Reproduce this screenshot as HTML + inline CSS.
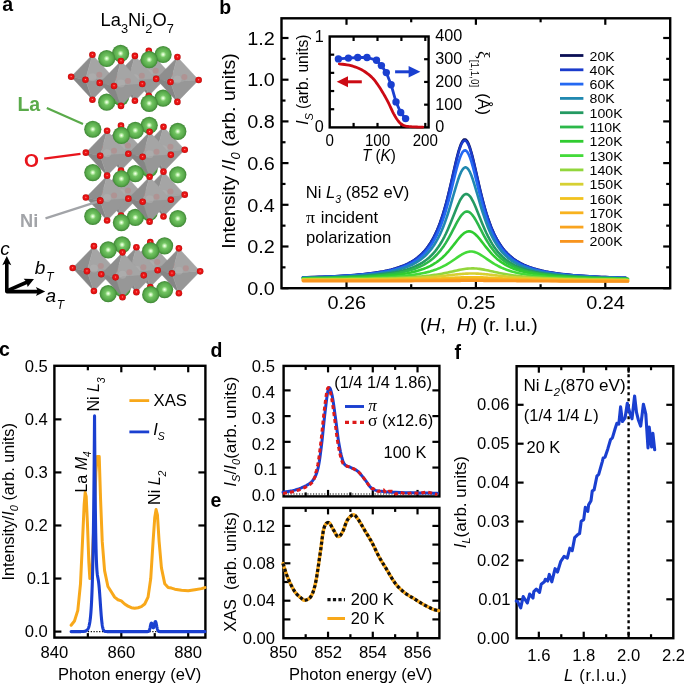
<!DOCTYPE html>
<html><head><meta charset="utf-8"><title>La3Ni2O7</title>
<style>html,body{margin:0;padding:0;background:#fff;}svg{display:block;}</style></head>
<body><svg width="684" height="685" viewBox="0 0 684 685" font-family="'Liberation Sans', Arial, Helvetica, sans-serif" fill="#000">
<rect x="281.5" y="18.3" width="388.7" height="269.9" fill="none" stroke="#000" stroke-width="2.4" stroke-linejoin="miter"/>
<line x1="281.5" y1="288.2" x2="288.5" y2="288.2" stroke="#000" stroke-width="2.2" />
<line x1="670.2" y1="288.2" x2="663.2" y2="288.2" stroke="#000" stroke-width="2.2" />
<line x1="281.5" y1="246.5" x2="288.5" y2="246.5" stroke="#000" stroke-width="2.2" />
<line x1="670.2" y1="246.5" x2="663.2" y2="246.5" stroke="#000" stroke-width="2.2" />
<line x1="281.5" y1="204.8" x2="288.5" y2="204.8" stroke="#000" stroke-width="2.2" />
<line x1="670.2" y1="204.8" x2="663.2" y2="204.8" stroke="#000" stroke-width="2.2" />
<line x1="281.5" y1="163.1" x2="288.5" y2="163.1" stroke="#000" stroke-width="2.2" />
<line x1="670.2" y1="163.1" x2="663.2" y2="163.1" stroke="#000" stroke-width="2.2" />
<line x1="281.5" y1="121.4" x2="288.5" y2="121.4" stroke="#000" stroke-width="2.2" />
<line x1="670.2" y1="121.4" x2="663.2" y2="121.4" stroke="#000" stroke-width="2.2" />
<line x1="281.5" y1="79.7" x2="288.5" y2="79.7" stroke="#000" stroke-width="2.2" />
<line x1="670.2" y1="79.7" x2="663.2" y2="79.7" stroke="#000" stroke-width="2.2" />
<line x1="281.5" y1="38" x2="288.5" y2="38" stroke="#000" stroke-width="2.2" />
<line x1="670.2" y1="38" x2="663.2" y2="38" stroke="#000" stroke-width="2.2" />
<line x1="281.5" y1="267.35" x2="285.5" y2="267.35" stroke="#000" stroke-width="2.2" />
<line x1="670.2" y1="267.35" x2="666.2" y2="267.35" stroke="#000" stroke-width="2.2" />
<line x1="281.5" y1="225.65" x2="285.5" y2="225.65" stroke="#000" stroke-width="2.2" />
<line x1="670.2" y1="225.65" x2="666.2" y2="225.65" stroke="#000" stroke-width="2.2" />
<line x1="281.5" y1="183.95" x2="285.5" y2="183.95" stroke="#000" stroke-width="2.2" />
<line x1="670.2" y1="183.95" x2="666.2" y2="183.95" stroke="#000" stroke-width="2.2" />
<line x1="281.5" y1="142.25" x2="285.5" y2="142.25" stroke="#000" stroke-width="2.2" />
<line x1="670.2" y1="142.25" x2="666.2" y2="142.25" stroke="#000" stroke-width="2.2" />
<line x1="281.5" y1="100.55" x2="285.5" y2="100.55" stroke="#000" stroke-width="2.2" />
<line x1="670.2" y1="100.55" x2="666.2" y2="100.55" stroke="#000" stroke-width="2.2" />
<line x1="281.5" y1="58.85" x2="285.5" y2="58.85" stroke="#000" stroke-width="2.2" />
<line x1="670.2" y1="58.85" x2="666.2" y2="58.85" stroke="#000" stroke-width="2.2" />
<line x1="346.5" y1="288.2" x2="346.5" y2="281.7" stroke="#000" stroke-width="2.2" />
<line x1="346.5" y1="18.3" x2="346.5" y2="24.8" stroke="#000" stroke-width="2.2" />
<line x1="475.9" y1="288.2" x2="475.9" y2="281.7" stroke="#000" stroke-width="2.2" />
<line x1="475.9" y1="18.3" x2="475.9" y2="24.8" stroke="#000" stroke-width="2.2" />
<line x1="605.3" y1="288.2" x2="605.3" y2="281.7" stroke="#000" stroke-width="2.2" />
<line x1="605.3" y1="18.3" x2="605.3" y2="24.8" stroke="#000" stroke-width="2.2" />
<line x1="411.2" y1="288.2" x2="411.2" y2="284.2" stroke="#000" stroke-width="2.2" />
<line x1="411.2" y1="18.3" x2="411.2" y2="22.3" stroke="#000" stroke-width="2.2" />
<line x1="540.6" y1="288.2" x2="540.6" y2="284.2" stroke="#000" stroke-width="2.2" />
<line x1="540.6" y1="18.3" x2="540.6" y2="22.3" stroke="#000" stroke-width="2.2" />
<text transform="translate(274.9,294.9) scale(1.04,1)" font-size="19.1" text-anchor="end" >0.0</text>
<text transform="translate(274.9,253.2) scale(1.04,1)" font-size="19.1" text-anchor="end" >0.2</text>
<text transform="translate(274.9,211.5) scale(1.04,1)" font-size="19.1" text-anchor="end" >0.4</text>
<text transform="translate(274.9,169.8) scale(1.04,1)" font-size="19.1" text-anchor="end" >0.6</text>
<text transform="translate(274.9,128.1) scale(1.04,1)" font-size="19.1" text-anchor="end" >0.8</text>
<text transform="translate(274.9,86.4) scale(1.04,1)" font-size="19.1" text-anchor="end" >1.0</text>
<text transform="translate(274.9,44.7) scale(1.04,1)" font-size="19.1" text-anchor="end" >1.2</text>
<text transform="translate(346.8,309) scale(1.04,1)" font-size="19.1" text-anchor="middle" >0.26</text>
<text transform="translate(476.2,309) scale(1.04,1)" font-size="19.1" text-anchor="middle" >0.25</text>
<text transform="translate(605.6,309) scale(1.04,1)" font-size="19.1" text-anchor="middle" >0.24</text>
<text transform="translate(234.9,151) rotate(-90) scale(1,0.98)" font-size="19.6" text-anchor="middle" >Intensity /<tspan font-style="italic">I</tspan><tspan font-size="13" font-style="italic" dy="5">0</tspan><tspan dy="-5"> (arb. units)</tspan></text>
<text transform="translate(420,330.9) scale(1.04,1)" font-size="18.7" text-anchor="start" >(<tspan font-style="italic">H</tspan>, &#160;<tspan font-style="italic">H</tspan>) (r. l.u.)</text>
<polyline points="303,277.38 307,277.28 311,277.16 315,277.04 319,276.9 323,276.76 327,276.6 331,276.42 335,276.23 339,276.02 343,275.79 347,275.54 351,275.26 355,274.95 359,274.61 363,274.22 367,273.79 371,273.3 375,272.76 379,272.13 383,271.42 387,270.61 391,269.68 395,268.59 399,267.32 403,265.83 407,264.07 408.5,263.32 410,262.52 411.5,261.67 413,260.75 414.5,259.76 416,258.7 417.5,257.56 419,256.33 420.5,255 422,253.57 423.5,252.01 425,250.33 426.5,248.5 428,246.52 429.5,244.36 431,242.01 432.5,239.46 434,236.67 435.5,233.63 437,230.31 438.5,226.7 440,222.77 441.5,218.5 443,213.87 444.5,208.87 446,203.49 447.5,197.75 449,191.67 450.5,185.3 452,178.72 453.5,172.05 455,165.44 456.5,159.09 458,153.23 459.5,148.11 461,143.97 462.5,141.05 464,139.51 465.5,139.46 467,140.9 468.5,143.73 470,147.8 471.5,152.87 473,158.69 474.5,165.01 476,171.61 477.5,178.29 479,184.88 480.5,191.27 482,197.38 483.5,203.15 485,208.55 486.5,213.59 488,218.25 489.5,222.55 491,226.5 492.5,230.14 494,233.48 495.5,236.54 497,239.35 498.5,241.93 500,244.29 501.5,246.47 503,248.47 504.5,250.31 506,252.01 507.5,253.58 509,255.02 510.5,256.36 512,257.61 513.5,258.76 515,259.83 516.5,260.82 518,261.75 519.5,262.61 521,263.42 522.5,264.17 524,264.88 525.5,265.54 529.5,267.12 533.5,268.45 537.5,269.6 541.5,270.59 545.5,271.45 549.5,272.19 553.5,272.85 557.5,273.43 561.5,273.95 565.5,274.4 569.5,274.81 573.5,275.18 577.5,275.52 581.5,275.82 585.5,276.09 589.5,276.34 593.5,276.56 597.5,276.77 601.5,276.96 605.5,277.14 609.5,277.3 613.5,277.45 617.5,277.59 621.5,277.72 625.5,277.84" fill="none" stroke="#0b0f55" stroke-width="2.6" stroke-linejoin="round" stroke-linecap="round" />
<polyline points="303,277.4 307,277.3 311,277.18 315,277.06 319,276.93 323,276.78 327,276.62 331,276.45 335,276.26 339,276.06 343,275.83 347,275.58 351,275.3 355,274.99 359,274.65 363,274.27 367,273.84 371,273.36 375,272.82 379,272.2 383,271.5 387,270.69 391,269.76 395,268.68 399,267.43 403,265.95 407,264.2 408.5,263.46 410,262.67 411.5,261.82 413,260.91 414.5,259.93 416,258.88 417.5,257.75 419,256.53 420.5,255.22 422,253.79 423.5,252.25 425,250.58 426.5,248.77 428,246.8 429.5,244.66 431,242.34 432.5,239.8 434,237.04 435.5,234.02 437,230.74 438.5,227.16 440,223.26 441.5,219.03 443,214.44 444.5,209.48 446,204.14 447.5,198.45 449,192.42 450.5,186.1 452,179.58 453.5,172.97 455,166.42 456.5,160.12 458,154.31 459.5,149.23 461,145.13 462.5,142.23 464,140.71 465.5,140.66 467,142.09 468.5,144.9 470,148.92 471.5,153.95 473,159.72 474.5,165.99 476,172.54 477.5,179.15 479,185.69 480.5,192.03 482,198.08 483.5,203.8 485,209.16 486.5,214.15 488,218.77 489.5,223.03 491,226.96 492.5,230.56 494,233.87 495.5,236.91 497,239.69 498.5,242.25 500,244.6 501.5,246.75 503,248.74 504.5,250.56 506,252.25 507.5,253.8 509,255.24 510.5,256.56 512,257.8 513.5,258.94 515,260 516.5,260.98 518,261.9 519.5,262.76 521,263.56 522.5,264.31 524,265.01 525.5,265.67 529.5,267.23 533.5,268.55 537.5,269.69 541.5,270.67 545.5,271.52 549.5,272.26 553.5,272.91 557.5,273.49 561.5,274 565.5,274.45 569.5,274.86 573.5,275.22 577.5,275.55 581.5,275.85 585.5,276.12 589.5,276.37 593.5,276.59 597.5,276.8 601.5,276.99 605.5,277.16 609.5,277.33 613.5,277.47 617.5,277.61 621.5,277.74 625.5,277.86" fill="none" stroke="#1b3ccc" stroke-width="2.6" stroke-linejoin="round" stroke-linecap="round" />
<polyline points="303,277.56 307,277.47 311,277.36 315,277.25 319,277.12 323,276.99 327,276.84 331,276.69 335,276.51 339,276.32 343,276.11 347,275.88 351,275.62 355,275.34 359,275.02 363,274.67 367,274.27 371,273.83 375,273.33 379,272.76 383,272.11 387,271.37 391,270.51 395,269.52 399,268.36 403,267 407,265.38 408.5,264.7 410,263.97 411.5,263.19 413,262.35 414.5,261.45 416,260.49 417.5,259.45 419,258.32 420.5,257.11 422,255.8 423.5,254.39 425,252.85 426.5,251.19 428,249.38 429.5,247.41 431,245.27 432.5,242.94 434,240.4 435.5,237.63 437,234.61 438.5,231.32 440,227.74 441.5,223.85 443,219.62 444.5,215.06 446,210.15 447.5,204.9 449,199.33 450.5,193.49 452,187.45 453.5,181.31 455,175.2 456.5,169.3 458,163.83 459.5,159 461,155.05 462.5,152.2 464,150.61 465.5,150.38 467,151.52 468.5,153.97 470,157.57 471.5,162.14 473,167.42 474.5,173.21 476,179.27 477.5,185.42 479,191.51 480.5,197.43 482,203.1 483.5,208.46 485,213.49 486.5,218.17 488,222.52 489.5,226.52 491,230.21 492.5,233.6 494,236.71 495.5,239.57 497,242.19 498.5,244.59 500,246.8 501.5,248.83 503,250.69 504.5,252.41 506,253.99 507.5,255.45 509,256.8 510.5,258.05 512,259.2 513.5,260.28 515,261.27 516.5,262.2 518,263.06 519.5,263.87 521,264.62 522.5,265.32 524,265.97 525.5,266.59 529.5,268.05 533.5,269.3 537.5,270.36 541.5,271.28 545.5,272.08 549.5,272.77 553.5,273.38 557.5,273.92 561.5,274.4 565.5,274.82 569.5,275.2 573.5,275.55 577.5,275.85 581.5,276.13 585.5,276.39 589.5,276.62 593.5,276.83 597.5,277.02 601.5,277.2 605.5,277.36 609.5,277.51 613.5,277.65 617.5,277.78 621.5,277.9 625.5,278.01" fill="none" stroke="#2468f2" stroke-width="2.6" stroke-linejoin="round" stroke-linecap="round" />
<polyline points="303,277.76 307,277.67 311,277.57 315,277.47 319,277.36 323,277.24 327,277.11 331,276.97 335,276.81 339,276.64 343,276.45 347,276.25 351,276.02 355,275.76 359,275.48 363,275.16 367,274.81 371,274.41 375,273.97 379,273.46 383,272.88 387,272.22 391,271.46 395,270.58 399,269.55 403,268.35 407,266.92 408.5,266.32 410,265.68 411.5,264.99 413,264.26 414.5,263.47 416,262.62 417.5,261.71 419,260.72 420.5,259.67 422,258.52 423.5,257.29 425,255.95 426.5,254.51 428,252.94 429.5,251.23 431,249.38 432.5,247.37 434,245.19 435.5,242.81 437,240.22 438.5,237.4 440,234.34 441.5,231.02 443,227.43 444.5,223.56 446,219.4 447.5,214.96 449,210.25 450.5,205.32 452,200.21 453.5,195 455,189.81 456.5,184.76 458,180.03 459.5,175.79 461,172.24 462.5,169.55 464,167.87 465.5,167.3 467,167.87 468.5,169.55 470,172.24 471.5,175.8 473,180.03 474.5,184.77 476,189.81 477.5,195.01 479,200.22 480.5,205.33 482,210.27 483.5,214.98 485,219.43 486.5,223.59 488,227.47 489.5,231.07 491,234.39 492.5,237.45 494,240.27 495.5,242.87 497,245.25 498.5,247.45 500,249.46 501.5,251.32 503,253.02 504.5,254.6 506,256.05 507.5,257.39 509,258.63 510.5,259.78 512,260.84 513.5,261.83 515,262.75 516.5,263.6 518,264.4 519.5,265.14 521,265.83 522.5,266.48 524,267.08 525.5,267.65 529.5,269 533.5,270.15 537.5,271.13 541.5,271.97 545.5,272.71 549.5,273.35 553.5,273.91 557.5,274.41 561.5,274.85 565.5,275.24 569.5,275.59 573.5,275.91 577.5,276.19 581.5,276.45 585.5,276.68 589.5,276.9 593.5,277.09 597.5,277.27 601.5,277.43 605.5,277.58 609.5,277.72 613.5,277.85 617.5,277.97 621.5,278.08 625.5,278.19" fill="none" stroke="#2088b0" stroke-width="2.6" stroke-linejoin="round" stroke-linecap="round" />
<polyline points="303,278.07 307,278 311,277.93 315,277.85 319,277.76 323,277.66 327,277.55 331,277.44 335,277.31 339,277.17 343,277.02 347,276.85 351,276.66 355,276.46 359,276.23 363,275.97 367,275.69 371,275.37 375,275.01 379,274.6 383,274.13 387,273.6 391,272.99 395,272.29 399,271.47 403,270.51 407,269.38 408.5,268.91 410,268.4 411.5,267.86 413,267.28 414.5,266.66 416,266 417.5,265.29 419,264.52 420.5,263.7 422,262.81 423.5,261.86 425,260.83 426.5,259.71 428,258.51 429.5,257.21 431,255.79 432.5,254.27 434,252.61 435.5,250.82 437,248.87 438.5,246.76 440,244.48 441.5,242.02 443,239.37 444.5,236.52 446,233.47 447.5,230.22 449,226.79 450.5,223.2 452,219.49 453.5,215.71 455,211.92 456.5,208.21 458,204.7 459.5,201.49 461,198.71 462.5,196.49 464,194.93 465.5,194.11 467,194.09 468.5,194.85 470,196.36 471.5,198.54 473,201.29 474.5,204.47 476,207.98 477.5,211.67 479,215.46 480.5,219.25 482,222.98 483.5,226.58 485,230.02 486.5,233.28 488,236.35 489.5,239.22 491,241.89 492.5,244.37 494,246.67 495.5,248.79 497,250.75 498.5,252.56 500,254.23 501.5,255.77 503,257.2 504.5,258.51 506,259.73 507.5,260.85 509,261.89 510.5,262.86 512,263.76 513.5,264.59 515,265.36 516.5,266.08 518,266.76 519.5,267.38 521,267.97 522.5,268.52 524,269.03 525.5,269.51 527,269.97 531,271.04 535,271.96 539,272.75 543,273.43 547,274.03 551,274.55 555,275 559,275.41 563,275.77 567,276.09 571,276.38 575,276.63 579,276.87 583,277.08 587,277.27 591,277.45 595,277.61 599,277.75 603,277.89 607,278.01 611,278.13 615,278.24 619,278.34 623,278.43 627,278.51" fill="none" stroke="#249a62" stroke-width="2.6" stroke-linejoin="round" stroke-linecap="round" />
<polyline points="303,278.29 307,278.23 311,278.16 315,278.09 319,278.02 323,277.94 327,277.85 331,277.75 335,277.64 339,277.52 343,277.39 347,277.25 351,277.1 355,276.92 359,276.73 363,276.51 367,276.27 371,276 375,275.7 379,275.35 383,274.97 387,274.52 391,274.01 395,273.42 399,272.74 403,271.95 407,271.01 411,269.91 412.5,269.45 414,268.95 415.5,268.42 417,267.85 418.5,267.24 420,266.59 421.5,265.89 423,265.13 424.5,264.32 426,263.44 427.5,262.5 429,261.48 430.5,260.39 432,259.2 433.5,257.92 435,256.54 436.5,255.04 438,253.43 439.5,251.69 441,249.82 442.5,247.81 444,245.66 445.5,243.36 447,240.92 448.5,238.34 450,235.64 451.5,232.84 453,229.97 454.5,227.08 456,224.22 457.5,221.46 459,218.88 460.5,216.55 462,214.58 463.5,213.05 465,212.01 466.5,211.53 468,211.63 469.5,212.3 471,213.51 472.5,215.2 474,217.3 475.5,219.72 477,222.37 478.5,225.17 480,228.05 481.5,230.95 483,233.8 484.5,236.57 486,239.24 487.5,241.77 489,244.17 490.5,246.43 492,248.54 493.5,250.51 495,252.34 496.5,254.04 498,255.62 499.5,257.08 501,258.43 502.5,259.68 504,260.84 505.5,261.92 507,262.91 508.5,263.84 510,264.7 511.5,265.5 513,266.24 514.5,266.93 516,267.57 517.5,268.17 519,268.74 520.5,269.26 522,269.75 523.5,270.21 525,270.64 526.5,271.05 528,271.43 532,272.34 536,273.11 540,273.78 544,274.36 548,274.87 552,275.31 556,275.7 560,276.05 564,276.36 568,276.63 572,276.88 576,277.1 580,277.3 584,277.48 588,277.65 592,277.8 596,277.94 600,278.07 604,278.18 608,278.29 612,278.39 616,278.49 620,278.57 624,278.65 628,278.73" fill="none" stroke="#2cb84a" stroke-width="2.6" stroke-linejoin="round" stroke-linecap="round" />
<polyline points="303,278.57 307,278.53 311,278.48 315,278.43 319,278.37 323,278.31 327,278.24 331,278.17 335,278.09 339,278 343,277.9 347,277.79 351,277.67 355,277.54 359,277.4 363,277.24 367,277.06 371,276.86 375,276.63 379,276.38 383,276.09 387,275.76 391,275.39 395,274.96 399,274.46 403,273.89 407,273.21 411,272.43 412.5,272.1 414,271.75 415.5,271.37 417,270.97 418.5,270.54 420,270.08 421.5,269.59 423,269.07 424.5,268.51 426,267.91 427.5,267.26 429,266.56 430.5,265.82 432,265.02 433.5,264.15 435,263.23 436.5,262.23 438,261.16 439.5,260.01 441,258.78 442.5,257.46 444,256.05 445.5,254.55 447,252.96 448.5,251.28 450,249.52 451.5,247.69 453,245.81 454.5,243.89 456,241.96 457.5,240.06 459,238.23 460.5,236.52 462,234.96 463.5,233.63 465,232.56 466.5,231.8 468,231.38 469.5,231.32 471,231.62 472.5,232.27 474,233.24 475.5,234.49 477,235.98 478.5,237.65 480,239.45 481.5,241.33 483,243.26 484.5,245.19 486,247.09 487.5,248.94 489,250.73 490.5,252.44 492,254.06 493.5,255.6 495,257.04 496.5,258.39 498,259.66 499.5,260.84 501,261.94 502.5,262.97 504,263.92 505.5,264.81 507,265.64 508.5,266.41 510,267.13 511.5,267.79 513,268.42 514.5,269 516,269.54 517.5,270.04 519,270.52 520.5,270.96 522,271.37 523.5,271.76 525,272.13 526.5,272.47 528,272.79 529.5,273.09 533.5,273.82 537.5,274.44 541.5,274.98 545.5,275.45 549.5,275.85 553.5,276.21 557.5,276.53 561.5,276.81 565.5,277.05 569.5,277.28 573.5,277.48 577.5,277.66 581.5,277.82 585.5,277.97 589.5,278.11 593.5,278.23 597.5,278.34 601.5,278.45 605.5,278.54 609.5,278.63 613.5,278.71 617.5,278.79 621.5,278.86 625.5,278.93" fill="none" stroke="#30cc30" stroke-width="2.6" stroke-linejoin="round" stroke-linecap="round" />
<polyline points="303,278.92 307,278.89 311,278.86 315,278.83 319,278.79 323,278.76 327,278.72 331,278.67 335,278.62 339,278.56 343,278.5 347,278.44 351,278.36 355,278.28 359,278.19 363,278.09 367,277.98 371,277.85 375,277.71 379,277.56 383,277.38 387,277.17 391,276.94 395,276.68 399,276.38 403,276.03 407,275.62 411,275.15 415,274.6 416.5,274.37 418,274.12 419.5,273.86 421,273.58 422.5,273.28 424,272.96 425.5,272.62 427,272.26 428.5,271.87 430,271.46 431.5,271.01 433,270.54 434.5,270.03 436,269.49 437.5,268.91 439,268.29 440.5,267.63 442,266.93 443.5,266.18 445,265.39 446.5,264.55 448,263.67 449.5,262.74 451,261.78 452.5,260.78 454,259.76 455.5,258.72 457,257.68 458.5,256.66 460,255.67 461.5,254.73 463,253.87 464.5,253.11 466,252.47 467.5,251.99 469,251.66 470.5,251.51 472,251.54 473.5,251.75 475,252.13 476.5,252.67 478,253.35 479.5,254.15 481,255.04 482.5,256 484,257 485.5,258.04 487,259.08 488.5,260.12 490,261.14 491.5,262.13 493,263.08 494.5,264 496,264.87 497.5,265.7 499,266.48 500.5,267.22 502,267.91 503.5,268.56 505,269.17 506.5,269.75 508,270.28 509.5,270.78 511,271.25 512.5,271.69 514,272.1 515.5,272.49 517,272.85 518.5,273.18 520,273.5 521.5,273.8 523,274.08 524.5,274.34 526,274.58 527.5,274.82 529,275.03 530.5,275.24 532,275.44 536,275.9 540,276.31 544,276.66 548,276.96 552,277.23 556,277.47 560,277.67 564,277.86 568,278.03 572,278.18 576,278.31 580,278.43 584,278.54 588,278.65 592,278.74 596,278.82 600,278.9 604,278.97 608,279.04 612,279.1 616,279.16 620,279.21 624,279.26 628,279.31" fill="none" stroke="#44da3a" stroke-width="2.6" stroke-linejoin="round" stroke-linecap="round" />
<polyline points="303,279.19 307,279.18 311,279.16 315,279.15 319,279.13 323,279.11 327,279.09 331,279.06 335,279.04 339,279.01 343,278.97 347,278.94 351,278.9 355,278.86 359,278.81 363,278.75 367,278.69 371,278.62 375,278.55 379,278.46 383,278.37 387,278.26 391,278.14 395,278 399,277.84 403,277.67 407,277.46 411,277.23 415,276.95 416.5,276.84 418,276.72 419.5,276.6 421,276.47 422.5,276.33 424,276.18 425.5,276.03 427,275.86 428.5,275.69 430,275.51 431.5,275.32 433,275.11 434.5,274.9 436,274.68 437.5,274.44 439,274.19 440.5,273.93 442,273.66 443.5,273.37 445,273.08 446.5,272.77 448,272.46 449.5,272.14 451,271.81 452.5,271.47 454,271.13 455.5,270.8 457,270.47 458.5,270.14 460,269.84 461.5,269.54 463,269.28 464.5,269.04 466,268.83 467.5,268.66 469,268.53 470.5,268.44 472,268.4 473.5,268.41 475,268.47 476.5,268.57 478,268.71 479.5,268.89 481,269.11 482.5,269.37 484,269.64 485.5,269.94 487,270.26 488.5,270.59 490,270.92 491.5,271.26 493,271.6 494.5,271.94 496,272.27 497.5,272.59 499,272.91 500.5,273.22 502,273.51 503.5,273.79 505,274.07 506.5,274.33 508,274.58 509.5,274.81 511,275.04 512.5,275.26 514,275.46 515.5,275.65 517,275.84 518.5,276.01 520,276.18 521.5,276.34 523,276.49 524.5,276.63 526,276.76 527.5,276.89 529,277.01 530.5,277.13 532,277.23 533.5,277.34 537.5,277.59 541.5,277.81 545.5,278.01 549.5,278.18 553.5,278.34 557.5,278.47 561.5,278.6 565.5,278.71 569.5,278.81 573.5,278.9 577.5,278.98 581.5,279.05 585.5,279.12 589.5,279.18 593.5,279.24 597.5,279.29 601.5,279.34 605.5,279.39 609.5,279.43 613.5,279.47 617.5,279.51 621.5,279.54 625.5,279.58" fill="none" stroke="#92d63c" stroke-width="2.6" stroke-linejoin="round" stroke-linecap="round" />
<polyline points="303,279.59 307,279.58 311,279.57 315,279.56 319,279.55 323,279.54 327,279.52 331,279.51 335,279.49 339,279.47 343,279.45 347,279.42 351,279.39 355,279.36 359,279.33 363,279.29 367,279.25 371,279.2 375,279.14 379,279.08 383,279.02 387,278.94 391,278.86 395,278.76 399,278.65 403,278.53 407,278.39 411,278.23 415,278.05 416.5,277.98 418,277.9 419.5,277.82 421,277.73 422.5,277.64 424,277.55 425.5,277.45 427,277.35 428.5,277.24 430,277.13 431.5,277.01 433,276.89 434.5,276.76 436,276.62 437.5,276.49 439,276.34 440.5,276.19 442,276.04 443.5,275.88 445,275.72 446.5,275.56 448,275.39 449.5,275.22 451,275.05 452.5,274.88 454,274.72 455.5,274.55 457,274.39 458.5,274.24 460,274.1 461.5,273.97 463,273.85 464.5,273.75 466,273.66 467.5,273.59 469,273.54 470.5,273.51 472,273.5 473.5,273.51 475,273.54 476.5,273.59 478,273.66 479.5,273.75 481,273.85 482.5,273.97 484,274.11 485.5,274.25 487,274.4 488.5,274.56 490,274.73 491.5,274.89 493,275.07 494.5,275.24 496,275.41 497.5,275.58 499,275.75 500.5,275.91 502,276.07 503.5,276.23 505,276.39 506.5,276.53 508,276.68 509.5,276.81 511,276.95 512.5,277.08 514,277.2 515.5,277.32 517,277.43 518.5,277.54 520,277.64 521.5,277.74 523,277.83 524.5,277.92 526,278.01 527.5,278.09 529,278.17 530.5,278.25 532,278.32 536,278.5 540,278.65 544,278.8 548,278.92 552,279.03 556,279.14 560,279.23 564,279.31 568,279.39 572,279.45 576,279.52 580,279.57 584,279.63 588,279.68 592,279.72 596,279.76 600,279.8 604,279.84 608,279.87 612,279.9 616,279.93 620,279.96 624,279.99 628,280.01" fill="none" stroke="#d6d032" stroke-width="2.6" stroke-linejoin="round" stroke-linecap="round" />
<polyline points="303,280.04 307,280.04 311,280.04 315,280.03 319,280.03 323,280.03 327,280.02 331,280.02 335,280.01 339,280 343,279.99 347,279.98 351,279.97 355,279.96 359,279.94 363,279.93 367,279.91 371,279.88 375,279.86 379,279.83 383,279.8 387,279.76 391,279.72 395,279.67 399,279.62 403,279.56 407,279.49 411,279.41 415,279.33 416.5,279.29 418,279.25 419.5,279.21 421,279.17 422.5,279.13 424,279.08 425.5,279.03 427,278.98 428.5,278.93 430,278.88 431.5,278.82 433,278.76 434.5,278.7 436,278.63 437.5,278.57 439,278.5 440.5,278.43 442,278.36 443.5,278.28 445,278.21 446.5,278.13 448,278.05 449.5,277.98 451,277.9 452.5,277.82 454,277.74 455.5,277.67 457,277.6 458.5,277.53 460,277.47 461.5,277.41 463,277.36 464.5,277.31 466,277.27 467.5,277.24 469,277.22 470.5,277.2 472,277.2 473.5,277.2 475,277.22 476.5,277.24 478,277.27 479.5,277.31 481,277.36 482.5,277.41 484,277.47 485.5,277.54 487,277.6 488.5,277.68 490,277.75 491.5,277.83 493,277.91 494.5,277.99 496,278.07 497.5,278.15 499,278.23 500.5,278.31 502,278.39 503.5,278.47 505,278.54 506.5,278.61 508,278.68 509.5,278.75 511,278.82 512.5,278.88 514,278.94 515.5,279 517,279.06 518.5,279.11 520,279.17 521.5,279.22 523,279.27 524.5,279.31 526,279.36 527.5,279.4 529,279.44 530.5,279.48 532,279.52 536,279.62 540,279.7 544,279.78 548,279.84 552,279.91 556,279.96 560,280.01 564,280.06 568,280.1 572,280.14 576,280.18 580,280.21 584,280.24 588,280.27 592,280.3 596,280.33 600,280.35 604,280.37 608,280.39 612,280.41 616,280.43 620,280.45 624,280.47 628,280.48" fill="none" stroke="#f2c21e" stroke-width="2.6" stroke-linejoin="round" stroke-linecap="round" />
<polyline points="303,280.39 307,280.39 311,280.4 315,280.4 319,280.4 323,280.39 327,280.39 331,280.39 335,280.39 339,280.39 343,280.38 347,280.38 351,280.37 355,280.36 359,280.36 363,280.35 367,280.33 371,280.32 375,280.31 379,280.29 383,280.27 387,280.25 391,280.23 395,280.2 399,280.17 403,280.13 407,280.09 411,280.04 415,279.99 416.5,279.97 418,279.95 419.5,279.93 421,279.9 422.5,279.88 424,279.85 425.5,279.82 427,279.8 428.5,279.77 430,279.74 431.5,279.7 433,279.67 434.5,279.64 436,279.6 437.5,279.57 439,279.53 440.5,279.5 442,279.46 443.5,279.42 445,279.38 446.5,279.34 448,279.3 449.5,279.27 451,279.23 452.5,279.19 454,279.15 455.5,279.12 457,279.08 458.5,279.05 460,279.02 461.5,279 463,278.97 464.5,278.95 466,278.93 467.5,278.92 469,278.91 470.5,278.9 472,278.9 473.5,278.9 475,278.91 476.5,278.92 478,278.93 479.5,278.95 481,278.97 482.5,279 484,279.02 485.5,279.06 487,279.09 488.5,279.12 490,279.16 491.5,279.2 493,279.24 494.5,279.28 496,279.32 497.5,279.36 499,279.4 500.5,279.45 502,279.49 503.5,279.53 505,279.57 506.5,279.61 508,279.65 509.5,279.69 511,279.72 512.5,279.76 514,279.8 515.5,279.83 517,279.86 518.5,279.9 520,279.93 521.5,279.96 523,279.99 524.5,280.02 526,280.05 527.5,280.07 529,280.1 530.5,280.13 532,280.15 536,280.21 540,280.27 544,280.32 548,280.36 552,280.41 556,280.45 560,280.48 564,280.52 568,280.55 572,280.57 576,280.6 580,280.63 584,280.65 588,280.67 592,280.69 596,280.71 600,280.73 604,280.75 608,280.77 612,280.78 616,280.8 620,280.81 624,280.83 628,280.84" fill="none" stroke="#f8b21e" stroke-width="2.6" stroke-linejoin="round" stroke-linecap="round" />
<polyline points="303,280.74 307,280.74 311,280.74 315,280.74 319,280.75 323,280.75 327,280.75 331,280.75 335,280.75 339,280.75 343,280.75 347,280.75 351,280.75 355,280.74 359,280.74 363,280.74 367,280.73 371,280.73 375,280.72 379,280.71 383,280.7 387,280.69 391,280.68 395,280.66 399,280.65 403,280.63 407,280.6 411,280.58 415,280.55 416.5,280.54 418,280.53 419.5,280.51 421,280.5 422.5,280.49 424,280.47 425.5,280.46 427,280.44 428.5,280.43 430,280.41 431.5,280.4 433,280.38 434.5,280.36 436,280.34 437.5,280.32 439,280.31 440.5,280.29 442,280.27 443.5,280.25 445,280.23 446.5,280.21 448,280.19 449.5,280.17 451,280.15 452.5,280.14 454,280.12 455.5,280.1 457,280.09 458.5,280.07 460,280.06 461.5,280.04 463,280.03 464.5,280.02 466,280.01 467.5,280.01 469,280 470.5,280 472,280 473.5,280 475,280 476.5,280.01 478,280.02 479.5,280.02 481,280.03 482.5,280.05 484,280.06 485.5,280.07 487,280.09 488.5,280.11 490,280.12 491.5,280.14 493,280.16 494.5,280.18 496,280.21 497.5,280.23 499,280.25 500.5,280.27 502,280.29 503.5,280.31 505,280.34 506.5,280.36 508,280.38 509.5,280.4 511,280.42 512.5,280.44 514,280.47 515.5,280.49 517,280.51 518.5,280.52 520,280.54 521.5,280.56 523,280.58 524.5,280.6 526,280.62 527.5,280.63 529,280.65 530.5,280.66 532,280.68 536,280.72 540,280.76 544,280.79 548,280.82 552,280.85 556,280.88 560,280.9 564,280.93 568,280.95 572,280.97 576,280.99 580,281.01 584,281.03 588,281.04 592,281.06 596,281.08 600,281.09 604,281.1 608,281.12 612,281.13 616,281.14 620,281.16 624,281.17 628,281.18" fill="none" stroke="#f9a420" stroke-width="2.6" stroke-linejoin="round" stroke-linecap="round" />
<polyline points="303,281.08 307,281.08 311,281.08 315,281.09 319,281.09 323,281.1 327,281.1 331,281.1 335,281.11 339,281.11 343,281.11 347,281.12 351,281.12 355,281.12 359,281.12 363,281.12 367,281.12 371,281.12 375,281.12 379,281.12 383,281.12 387,281.12 391,281.12 395,281.11 399,281.1 403,281.1 407,281.09 411,281.08 415,281.07 416.5,281.06 418,281.06 419.5,281.05 421,281.05 422.5,281.04 424,281.03 425.5,281.03 427,281.02 428.5,281.01 430,281 431.5,281 433,280.99 434.5,280.98 436,280.97 437.5,280.96 439,280.95 440.5,280.95 442,280.94 443.5,280.93 445,280.92 446.5,280.91 448,280.9 449.5,280.89 451,280.88 452.5,280.87 454,280.86 455.5,280.85 457,280.84 458.5,280.84 460,280.83 461.5,280.82 463,280.82 464.5,280.81 466,280.81 467.5,280.8 469,280.8 470.5,280.8 472,280.8 473.5,280.8 475,280.8 476.5,280.8 478,280.81 479.5,280.81 481,280.82 482.5,280.82 484,280.83 485.5,280.84 487,280.85 488.5,280.86 490,280.87 491.5,280.88 493,280.89 494.5,280.9 496,280.91 497.5,280.92 499,280.94 500.5,280.95 502,280.96 503.5,280.97 505,280.99 506.5,281 508,281.01 509.5,281.02 511,281.03 512.5,281.05 514,281.06 515.5,281.07 517,281.08 518.5,281.09 520,281.1 521.5,281.11 523,281.13 524.5,281.14 526,281.15 527.5,281.16 529,281.17 530.5,281.18 532,281.18 536,281.21 540,281.23 544,281.25 548,281.27 552,281.29 556,281.31 560,281.33 564,281.34 568,281.36 572,281.37 576,281.38 580,281.4 584,281.41 588,281.42 592,281.43 596,281.45 600,281.46 604,281.47 608,281.48 612,281.49 616,281.5 620,281.51 624,281.52 628,281.53" fill="none" stroke="#f8941e" stroke-width="2.6" stroke-linejoin="round" stroke-linecap="round" />
<line x1="560" y1="55.5" x2="583.4" y2="55.5" stroke="#0b0f55" stroke-width="2.8" />
<text transform="translate(589.6,60.5) scale(1.04,1)" font-size="13.6" text-anchor="start" >20K</text>
<line x1="560" y1="69.8" x2="583.4" y2="69.8" stroke="#1b3ccc" stroke-width="2.8" />
<text transform="translate(589.6,74.8) scale(1.04,1)" font-size="13.6" text-anchor="start" >40K</text>
<line x1="560" y1="84.1" x2="583.4" y2="84.1" stroke="#2468f2" stroke-width="2.8" />
<text transform="translate(589.6,89.1) scale(1.04,1)" font-size="13.6" text-anchor="start" >60K</text>
<line x1="560" y1="98.4" x2="583.4" y2="98.4" stroke="#2088b0" stroke-width="2.8" />
<text transform="translate(589.6,103.4) scale(1.04,1)" font-size="13.6" text-anchor="start" >80K</text>
<line x1="560" y1="112.7" x2="583.4" y2="112.7" stroke="#249a62" stroke-width="2.8" />
<text transform="translate(589.6,117.7) scale(1.04,1)" font-size="13.6" text-anchor="start" >100K</text>
<line x1="560" y1="127" x2="583.4" y2="127" stroke="#2cb84a" stroke-width="2.8" />
<text transform="translate(589.6,132) scale(1.04,1)" font-size="13.6" text-anchor="start" >110K</text>
<line x1="560" y1="141.3" x2="583.4" y2="141.3" stroke="#30cc30" stroke-width="2.8" />
<text transform="translate(589.6,146.3) scale(1.04,1)" font-size="13.6" text-anchor="start" >120K</text>
<line x1="560" y1="155.6" x2="583.4" y2="155.6" stroke="#44da3a" stroke-width="2.8" />
<text transform="translate(589.6,160.6) scale(1.04,1)" font-size="13.6" text-anchor="start" >130K</text>
<line x1="560" y1="169.9" x2="583.4" y2="169.9" stroke="#92d63c" stroke-width="2.8" />
<text transform="translate(589.6,174.9) scale(1.04,1)" font-size="13.6" text-anchor="start" >140K</text>
<line x1="560" y1="184.2" x2="583.4" y2="184.2" stroke="#d6d032" stroke-width="2.8" />
<text transform="translate(589.6,189.2) scale(1.04,1)" font-size="13.6" text-anchor="start" >150K</text>
<line x1="560" y1="198.5" x2="583.4" y2="198.5" stroke="#f2c21e" stroke-width="2.8" />
<text transform="translate(589.6,203.5) scale(1.04,1)" font-size="13.6" text-anchor="start" >160K</text>
<line x1="560" y1="212.8" x2="583.4" y2="212.8" stroke="#f8b21e" stroke-width="2.8" />
<text transform="translate(589.6,217.8) scale(1.04,1)" font-size="13.6" text-anchor="start" >170K</text>
<line x1="560" y1="227.1" x2="583.4" y2="227.1" stroke="#f9a420" stroke-width="2.8" />
<text transform="translate(589.6,232.1) scale(1.04,1)" font-size="13.6" text-anchor="start" >180K</text>
<line x1="560" y1="241.4" x2="583.4" y2="241.4" stroke="#f8941e" stroke-width="2.8" />
<text transform="translate(589.6,246.4) scale(1.04,1)" font-size="13.6" text-anchor="start" >200K</text>
<text transform="translate(305.7,197.9) scale(1.05,1)" font-size="15.8" text-anchor="start" >Ni <tspan font-style="italic">L</tspan><tspan font-size="10" font-style="italic" dy="5.5">3</tspan><tspan dy="-5.5"> (852 eV)</tspan></text>
<text transform="translate(306,222.7) scale(1.05,1)" font-size="15.8" text-anchor="start" ><tspan font-family="Liberation Serif" font-size="17">&#960;</tspan><tspan dx="1.2"> incident</tspan></text>
<text transform="translate(306,243.4) scale(1.055,1)" font-size="15.8" text-anchor="start" >polarization</text>
<rect x="329.7" y="36.5" width="98.90000000000003" height="90.9" fill="#fff" stroke="none"/>
<line x1="329.7" y1="109.22" x2="334.2" y2="109.22" stroke="#000" stroke-width="2.2" />
<line x1="329.7" y1="91.04" x2="334.2" y2="91.04" stroke="#000" stroke-width="2.2" />
<line x1="329.7" y1="72.86" x2="334.2" y2="72.86" stroke="#000" stroke-width="2.2" />
<line x1="329.7" y1="54.68" x2="334.2" y2="54.68" stroke="#000" stroke-width="2.2" />
<line x1="428.6" y1="104.67" x2="424.1" y2="104.67" stroke="#000" stroke-width="2.2" />
<line x1="428.6" y1="81.94" x2="424.1" y2="81.94" stroke="#000" stroke-width="2.2" />
<line x1="428.6" y1="59.21" x2="424.1" y2="59.21" stroke="#000" stroke-width="2.2" />
<line x1="353.6" y1="127.4" x2="353.6" y2="122.9" stroke="#000" stroke-width="2.2" />
<line x1="353.6" y1="36.5" x2="353.6" y2="41" stroke="#000" stroke-width="2.2" />
<line x1="377.5" y1="127.4" x2="377.5" y2="122.9" stroke="#000" stroke-width="2.2" />
<line x1="377.5" y1="36.5" x2="377.5" y2="41" stroke="#000" stroke-width="2.2" />
<line x1="401.4" y1="127.4" x2="401.4" y2="122.9" stroke="#000" stroke-width="2.2" />
<line x1="401.4" y1="36.5" x2="401.4" y2="41" stroke="#000" stroke-width="2.2" />
<line x1="425.3" y1="127.4" x2="425.3" y2="122.9" stroke="#000" stroke-width="2.2" />
<line x1="425.3" y1="36.5" x2="425.3" y2="41" stroke="#000" stroke-width="2.2" />
<rect x="329.7" y="36.5" width="98.9" height="90.9" fill="none" stroke="#000" stroke-width="2.4" stroke-linejoin="miter"/>
<text transform="translate(323.8,42) scale(1.04,1)" font-size="15.6" text-anchor="end" >1</text>
<text transform="translate(323.8,132.2) scale(1.04,1)" font-size="15.6" text-anchor="end" >0</text>
<text transform="translate(435.2,132.4) scale(1.04,1)" font-size="15.6" text-anchor="start" >0</text>
<text transform="translate(435.2,109.67) scale(1.04,1)" font-size="15.6" text-anchor="start" >100</text>
<text transform="translate(435.2,86.94) scale(1.04,1)" font-size="15.6" text-anchor="start" >200</text>
<text transform="translate(435.2,64.21) scale(1.04,1)" font-size="15.6" text-anchor="start" >300</text>
<text transform="translate(435.2,41.48) scale(1.04,1)" font-size="15.6" text-anchor="start" >400</text>
<text transform="translate(329.7,145.8) scale(0.97,1)" font-size="15.6" text-anchor="middle" >0</text>
<text transform="translate(377.5,145.8) scale(0.97,1)" font-size="15.6" text-anchor="middle" >100</text>
<text transform="translate(425.3,145.8) scale(0.97,1)" font-size="15.6" text-anchor="middle" >200</text>
<text transform="translate(361.9,161.1) scale(0.98,1)" font-size="15.6" text-anchor="start" ><tspan font-style="italic">T</tspan> (<tspan font-style="italic">K</tspan>)</text>
<text transform="translate(308.3,79.6) rotate(-90) scale(1,1.0)" font-size="15.6" text-anchor="middle" ><tspan font-style="italic">I</tspan><tspan font-size="10.5" font-style="italic" dy="4.5">S</tspan><tspan dy="-4.5"> (arb. units)</tspan></text>
<text transform="translate(478.4,51) rotate(90) scale(1,1.04)" font-size="15.5" text-anchor="start" ><tspan font-family="Liberation Serif" font-size="17">&#958;</tspan><tspan font-size="9.9" dy="7.4" dx="1.2">[1,1,0]</tspan><tspan dy="-7.4" dx="1.5" font-size="16.3"> (&#197;)</tspan></text>
<polyline points="339.3,63.9 340.62,64.05 342.49,64.24 344.67,64.5 346.92,64.81 349,65.2 350.94,65.67 352.91,66.22 354.85,66.82 356.73,67.49 358.5,68.2 360.14,68.95 361.67,69.74 363.13,70.6 364.56,71.51 366,72.5 367.45,73.56 368.88,74.68 370.3,75.87 371.67,77.14 373,78.5 374.27,79.95 375.48,81.48 376.66,83.1 377.83,84.77 379,86.5 380.19,88.31 381.39,90.22 382.57,92.16 383.71,94.11 384.8,96 385.82,97.84 386.79,99.66 387.72,101.45 388.62,103.23 389.5,105 390.36,106.78 391.19,108.57 392,110.34 392.8,112.03 393.6,113.6 394.4,115.06 395.2,116.44 395.99,117.73 396.76,118.92 397.5,120 398.2,120.96 398.86,121.79 399.51,122.53 400.18,123.2 400.9,123.8 401.64,124.33 402.4,124.78 403.19,125.17 404.05,125.5 405,125.8 406.08,126.06 407.26,126.27 408.51,126.44 409.77,126.58 411,126.7 412.2,126.8 413.41,126.87 414.61,126.92 415.81,126.96 417,127 418.27,127.03 419.61,127.06 420.91,127.08 422.01,127.09 422.8,127.1" fill="none" stroke="#cc0a14" stroke-width="2.8" stroke-linejoin="round" stroke-linecap="round" />
<polyline points="338.4,58.9 348.4,58.1 357.7,57.5 367,57.5 376.5,60.2 381.4,65.6 386.3,72.6 391.1,84.7 396,101.9 400.7,112.5 405.6,118.6" fill="none" stroke="#1a3fd0" stroke-width="2.8" stroke-linejoin="round" stroke-linecap="round" />
<circle cx="338.4" cy="58.9" r="3.7" fill="#1a3fd0"/>
<circle cx="348.4" cy="58.1" r="3.7" fill="#1a3fd0"/>
<circle cx="357.7" cy="57.5" r="3.7" fill="#1a3fd0"/>
<circle cx="367" cy="57.5" r="3.7" fill="#1a3fd0"/>
<circle cx="376.5" cy="60.2" r="3.7" fill="#1a3fd0"/>
<circle cx="381.4" cy="65.6" r="3.7" fill="#1a3fd0"/>
<circle cx="386.3" cy="72.6" r="3.7" fill="#1a3fd0"/>
<circle cx="391.1" cy="84.7" r="3.7" fill="#1a3fd0"/>
<circle cx="396" cy="101.9" r="3.7" fill="#1a3fd0"/>
<circle cx="400.7" cy="112.5" r="3.7" fill="#1a3fd0"/>
<circle cx="405.6" cy="118.6" r="3.7" fill="#1a3fd0"/>
<line x1="361.8" y1="81.8" x2="345" y2="81.8" stroke="#cc0a14" stroke-width="3" />
<polygon points="336.7,81.8 348,76.3 348,87.3" fill="#cc0a14"/>
<line x1="395.1" y1="71.8" x2="410" y2="71.8" stroke="#1a3fd0" stroke-width="3" />
<polygon points="420.4,71.8 408.6,66 408.6,77.6" fill="#1a3fd0"/>
<text transform="translate(2.3,11.1) scale(1.0,1)" font-size="19.5" text-anchor="start" font-weight="bold">a</text>
<text transform="translate(219.3,14) scale(1.0,1)" font-size="19.5" text-anchor="start" font-weight="bold">b</text>
<rect x="54.4" y="365.8" width="151" height="271.8" fill="none" stroke="#000" stroke-width="2.4" stroke-linejoin="miter"/>
<line x1="54.4" y1="631.6" x2="61.4" y2="631.6" stroke="#000" stroke-width="2.2" />
<line x1="205.4" y1="631.6" x2="198.4" y2="631.6" stroke="#000" stroke-width="2.2" />
<line x1="54.4" y1="578.54" x2="61.4" y2="578.54" stroke="#000" stroke-width="2.2" />
<line x1="205.4" y1="578.54" x2="198.4" y2="578.54" stroke="#000" stroke-width="2.2" />
<line x1="54.4" y1="525.48" x2="61.4" y2="525.48" stroke="#000" stroke-width="2.2" />
<line x1="205.4" y1="525.48" x2="198.4" y2="525.48" stroke="#000" stroke-width="2.2" />
<line x1="54.4" y1="472.42" x2="61.4" y2="472.42" stroke="#000" stroke-width="2.2" />
<line x1="205.4" y1="472.42" x2="198.4" y2="472.42" stroke="#000" stroke-width="2.2" />
<line x1="54.4" y1="419.36" x2="61.4" y2="419.36" stroke="#000" stroke-width="2.2" />
<line x1="205.4" y1="419.36" x2="198.4" y2="419.36" stroke="#000" stroke-width="2.2" />
<line x1="121.3" y1="637.6" x2="121.3" y2="631.1" stroke="#000" stroke-width="2.2" />
<line x1="121.3" y1="365.8" x2="121.3" y2="372.3" stroke="#000" stroke-width="2.2" />
<line x1="188.2" y1="637.6" x2="188.2" y2="631.1" stroke="#000" stroke-width="2.2" />
<line x1="188.2" y1="365.8" x2="188.2" y2="372.3" stroke="#000" stroke-width="2.2" />
<line x1="87.85" y1="637.6" x2="87.85" y2="633.1" stroke="#000" stroke-width="2.2" />
<line x1="87.85" y1="365.8" x2="87.85" y2="370.3" stroke="#000" stroke-width="2.2" />
<line x1="154.75" y1="637.6" x2="154.75" y2="633.1" stroke="#000" stroke-width="2.2" />
<line x1="154.75" y1="365.8" x2="154.75" y2="370.3" stroke="#000" stroke-width="2.2" />
<text transform="translate(47.8,637.2) scale(1.04,1)" font-size="16.0" text-anchor="end" >0.0</text>
<text transform="translate(50,584.14) scale(1.04,1)" font-size="16.0" text-anchor="end" >0.1</text>
<text transform="translate(47.8,531.08) scale(1.04,1)" font-size="16.0" text-anchor="end" >0.2</text>
<text transform="translate(47.8,478.02) scale(1.04,1)" font-size="16.0" text-anchor="end" >0.3</text>
<text transform="translate(47.8,424.96) scale(1.04,1)" font-size="16.0" text-anchor="end" >0.4</text>
<text transform="translate(47.8,371.9) scale(1.04,1)" font-size="16.0" text-anchor="end" >0.5</text>
<text transform="translate(54.4,657.6) scale(1.04,1)" font-size="16.0" text-anchor="middle" >840</text>
<text transform="translate(121.3,657.6) scale(1.04,1)" font-size="16.0" text-anchor="middle" >860</text>
<text transform="translate(188.2,657.6) scale(1.04,1)" font-size="16.0" text-anchor="middle" >880</text>
<text transform="translate(58,680.3) scale(1.04,1)" font-size="15.9" text-anchor="start" >Photon energy (eV)</text>
<text transform="translate(13.9,501.8) rotate(-90) scale(1,1.0)" font-size="16.2" text-anchor="middle" >Intensity/<tspan font-style="italic">I</tspan><tspan font-size="11" font-style="italic" dy="4">0</tspan><tspan dy="-4"> (arb. units)</tspan></text>
<line x1="71.12" y1="631.6" x2="204.4" y2="631.6" stroke="#000" stroke-width="1.2" stroke-dasharray="1.2,1.6"/>
<polyline points="71.12,625.23 74.47,620.99 77.81,610.38 80.49,583.85 82.5,541.4 84.17,504.26 85.17,492.58 86.18,496.3 87.52,525.48 88.85,562.62 89.86,578.54 91.86,567.93 93.87,525.48 95.88,472.42 97.22,456.5 99.22,456.5 100.56,498.95 102.23,541.4 104.58,570.58 107.92,586.5 111.27,591.81 114.61,597.11 117.96,599.76 121.3,600.83 124.65,604.01 127.99,606.13 131.34,607.72 134.68,608.25 138.03,607.72 141.37,606.66 144.72,604.01 148.06,597.11 150.74,578.54 153.08,541.4 154.75,517.52 156.09,509.56 157.43,514.87 159.1,541.4 161.44,567.93 164.78,583.85 168.13,587.56 171.47,588.09 174.82,589.15 181.51,590.21 188.2,590.74 194.89,589.68 201.58,588.62 204.93,587.56" fill="none" stroke="#f8a81a" stroke-width="3.0" stroke-linejoin="round" stroke-linecap="round" />
<polyline points="71.12,631.6 71.29,631.6 71.46,631.6 71.63,631.6 71.79,631.6 71.96,631.6 72.13,631.6 72.3,631.6 72.46,631.6 72.63,631.6 72.8,631.6 72.96,631.6 73.13,631.6 73.3,631.6 73.47,631.6 73.63,631.6 73.8,631.6 73.97,631.6 74.14,631.6 74.3,631.6 74.47,631.6 74.64,631.6 74.8,631.6 74.97,631.6 75.14,631.6 75.31,631.6 75.47,631.6 75.64,631.6 75.81,631.6 75.98,631.6 76.14,631.6 76.31,631.6 76.48,631.6 76.64,631.6 76.81,631.6 76.98,631.6 77.15,631.6 77.31,631.6 77.48,631.6 77.65,631.6 77.81,631.6 77.98,631.6 78.15,631.6 78.32,631.6 78.48,631.59 78.65,631.59 78.82,631.59 78.99,631.59 79.15,631.59 79.32,631.59 79.49,631.59 79.65,631.59 79.82,631.59 79.99,631.59 80.16,631.58 80.32,631.58 80.49,631.58 80.66,631.58 80.83,631.58 80.99,631.57 81.16,631.57 81.33,631.57 81.49,631.56 81.66,631.56 81.83,631.55 82,631.55 82.16,631.54 82.33,631.54 82.5,631.53 82.67,631.52 82.83,631.51 83,631.5 83.17,631.49 83.33,631.47 83.5,631.46 83.67,631.44 83.84,631.42 84,631.4 84.17,631.38 84.34,631.35 84.5,631.33 84.67,631.29 84.84,631.26 85.01,631.22 85.17,631.17 85.34,631.12 85.51,631.07 85.68,631 85.84,630.93 86.01,630.85 86.18,630.77 86.34,630.67 86.51,630.56 86.68,630.44 86.85,630.3 87.01,630.15 87.18,629.98 87.35,629.79 87.52,629.57 87.68,629.33 87.85,629.07 88.02,628.77 88.18,628.44 88.35,628.06 88.52,627.65 88.69,627.19 88.85,626.67 89.02,626.09 89.19,625.44 89.36,624.71 89.52,623.91 89.69,623 89.86,621.99 90.02,620.86 90.19,619.6 90.36,618.19 90.53,616.61 90.69,614.85 90.86,612.88 91.03,610.68 91.19,608.23 91.36,605.48 91.53,602.41 91.7,598.98 91.86,595.15 92.03,590.86 92.2,586.07 92.37,580.72 92.53,574.75 92.7,568.06 92.87,560.6 93.03,552.25 93.2,542.93 93.37,532.51 93.54,520.86 93.7,507.85 93.87,493.3 94.04,477.05 94.21,458.89 94.37,438.59 94.54,415.91 94.71,440.48 94.87,461.92 95.04,480.56 95.21,496.72 95.38,510.66 95.54,522.62 95.71,532.83 95.88,541.47 96.05,548.74 96.21,554.79 96.38,559.79 96.55,563.87 96.71,567.16 96.88,569.8 97.05,571.9 97.22,573.57 97.38,574.91 97.55,576.01 97.72,576.97 97.88,577.84 98.05,578.72 98.22,579.63 98.39,580.65 98.55,581.8 98.72,583.1 98.89,584.57 99.06,586.23 99.22,588.05 99.39,590.05 99.56,592.19 99.72,594.45 99.89,596.81 100.06,599.23 100.23,601.69 100.39,604.15 100.56,606.59 100.73,608.96 100.9,611.26 101.06,613.45 101.23,615.53 101.4,617.46 101.56,619.25 101.73,620.89 101.9,622.38 102.07,623.72 102.23,624.91 102.4,625.96 102.57,626.87 102.74,627.67 102.9,628.35 103.07,628.93 103.24,629.41 103.4,629.82 103.57,630.16 103.74,630.44 103.91,630.67 104.07,630.86 104.24,631.01 104.41,631.13 104.58,631.23 104.74,631.31 104.91,631.37 105.08,631.41 105.24,631.45 105.41,631.48 105.58,631.5 105.75,631.52 105.91,631.54 106.08,631.55 106.25,631.56 106.41,631.56 106.58,631.57 106.75,631.57 106.92,631.58 107.08,631.58 107.25,631.58 107.42,631.59 107.59,631.59 107.75,631.59 107.92,631.59 108.09,631.59 108.25,631.59 108.42,631.59 108.59,631.59 108.76,631.59 108.92,631.6 109.09,631.6 109.26,631.6 109.43,631.6 109.59,631.6 109.76,631.6 109.93,631.6 110.09,631.6 110.26,631.6 110.43,631.6 110.6,631.6 110.76,631.6 110.93,631.6 111.1,631.6 111.27,631.6 111.43,631.6 111.6,631.6 111.77,631.6 111.93,631.6 112.1,631.6 112.27,631.6 112.44,631.6 112.6,631.6 112.77,631.6 112.94,631.6 113.1,631.6 113.27,631.6 113.44,631.6 113.61,631.6 113.77,631.6 113.94,631.6 114.11,631.6 114.28,631.6 114.44,631.6 114.61,631.6 114.78,631.6 114.94,631.6 115.11,631.6 115.28,631.6 115.45,631.6 115.61,631.6 115.78,631.6 115.95,631.6 116.12,631.6 116.28,631.6 116.45,631.6 116.62,631.6 116.78,631.6 116.95,631.6 117.12,631.6 117.29,631.6 117.45,631.6 117.62,631.6 117.79,631.6 117.96,631.6 118.12,631.6 118.29,631.6 118.46,631.6 118.62,631.6 118.79,631.6 118.96,631.6 119.13,631.6 119.29,631.6 119.46,631.6 119.63,631.6 119.79,631.6 119.96,631.6 120.13,631.6 120.3,631.6 120.46,631.6 120.63,631.6 120.8,631.6 120.97,631.6 121.13,631.6 121.3,631.6 121.47,631.6 121.63,631.6 121.8,631.6 121.97,631.6 122.14,631.6 122.3,631.6 122.47,631.6 122.64,631.6 122.81,631.6 122.97,631.6 123.14,631.6 123.31,631.6 123.47,631.6 123.64,631.6 123.81,631.6 123.98,631.6 124.14,631.6 124.31,631.6 124.48,631.6 124.65,631.6 124.81,631.6 124.98,631.6 125.15,631.6 125.31,631.6 125.48,631.6 125.65,631.6 125.82,631.6 125.98,631.6 126.15,631.6 126.32,631.6 126.48,631.6 126.65,631.6 126.82,631.6 126.99,631.6 127.15,631.6 127.32,631.6 127.49,631.6 127.66,631.6 127.82,631.6 127.99,631.6 128.16,631.6 128.32,631.6 128.49,631.6 128.66,631.6 128.83,631.6 128.99,631.6 129.16,631.6 129.33,631.6 129.5,631.6 129.66,631.6 129.83,631.6 130,631.6 130.16,631.6 130.33,631.6 130.5,631.6 130.67,631.6 130.83,631.6 131,631.6 131.17,631.6 131.34,631.6 131.5,631.6 131.67,631.6 131.84,631.6 132,631.6 132.17,631.6 132.34,631.6 132.51,631.6 132.67,631.6 132.84,631.6 133.01,631.6 133.17,631.6 133.34,631.6 133.51,631.6 133.68,631.6 133.84,631.6 134.01,631.6 134.18,631.6 134.35,631.6 134.51,631.6 134.68,631.6 134.85,631.6 135.01,631.6 135.18,631.6 135.35,631.6 135.52,631.6 135.68,631.6 135.85,631.6 136.02,631.6 136.19,631.6 136.35,631.6 136.52,631.6 136.69,631.6 136.85,631.6 137.02,631.6 137.19,631.6 137.36,631.6 137.52,631.6 137.69,631.6 137.86,631.6 138.03,631.6 138.19,631.6 138.36,631.6 138.53,631.6 138.69,631.6 138.86,631.6 139.03,631.6 139.2,631.6 139.36,631.6 139.53,631.6 139.7,631.6 139.86,631.6 140.03,631.6 140.2,631.6 140.37,631.6 140.53,631.6 140.7,631.6 140.87,631.6 141.04,631.6 141.2,631.6 141.37,631.6 141.54,631.6 141.7,631.6 141.87,631.6 142.04,631.6 142.21,631.6 142.37,631.6 142.54,631.6 142.71,631.6 142.88,631.6 143.04,631.6 143.21,631.6 143.38,631.6 143.54,631.6 143.71,631.6 143.88,631.6 144.05,631.6 144.21,631.6 144.38,631.6 144.55,631.6 144.72,631.6 144.88,631.6 145.05,631.6 145.22,631.6 145.38,631.6 145.55,631.6 145.72,631.6 145.89,631.6 146.05,631.6 146.22,631.6 146.39,631.6 146.55,631.6 146.72,631.6 146.89,631.6 147.06,631.6 147.22,631.6 147.39,631.59 147.56,631.59 147.73,631.58 147.89,631.56 148.06,631.54 148.23,631.5 148.39,631.44 148.56,631.36 148.73,631.24 148.9,631.07 149.06,630.84 149.23,630.55 149.4,630.17 149.57,629.69 149.73,629.13 149.9,628.48 150.07,627.75 150.23,626.96 150.4,626.16 150.57,625.36 150.74,624.63 150.9,624 151.07,623.51 151.24,623.2 151.41,623.08 151.57,623.16 151.74,623.44 151.91,623.88 152.07,624.45 152.24,625.09 152.41,625.76 152.58,626.4 152.74,626.97 152.91,627.41 153.08,627.71 153.24,627.83 153.41,627.78 153.58,627.54 153.75,627.14 153.91,626.59 154.08,625.92 154.25,625.18 154.42,624.41 154.58,623.65 154.75,622.95 154.92,622.35 155.08,621.89 155.25,621.61 155.42,621.51 155.59,621.62 155.75,621.91 155.92,622.39 156.09,623.01 156.26,623.75 156.42,624.57 156.59,625.42 156.76,626.28 156.92,627.12 157.09,627.89 157.26,628.59 157.43,629.21 157.59,629.74 157.76,630.18 157.93,630.54 158.09,630.82 158.26,631.04 158.43,631.21 158.6,631.33 158.76,631.42 158.93,631.48 159.1,631.52 159.27,631.55 159.43,631.57 159.6,631.58 159.77,631.59 159.93,631.59 160.1,631.6 160.27,631.6 160.44,631.6 160.6,631.6 160.77,631.6 160.94,631.6 161.11,631.6 161.27,631.6 161.44,631.6 161.61,631.6 161.77,631.6 161.94,631.6 162.11,631.6 162.28,631.6 162.44,631.6 162.61,631.6 162.78,631.6 162.95,631.6 163.11,631.6 163.28,631.6 163.45,631.6 163.61,631.6 163.78,631.6 163.95,631.6 164.12,631.6 164.28,631.6 164.45,631.6 164.62,631.6 164.78,631.6 164.95,631.6 165.12,631.6 165.29,631.6 165.45,631.6 165.62,631.6 165.79,631.6 165.96,631.6 166.12,631.6 166.29,631.6 166.46,631.6 166.62,631.6 166.79,631.6 166.96,631.6 167.13,631.6 167.29,631.6 167.46,631.6 167.63,631.6 167.8,631.6 167.96,631.6 168.13,631.6 168.3,631.6 168.46,631.6 168.63,631.6 168.8,631.6 168.97,631.6 169.13,631.6 169.3,631.6 169.47,631.6 169.64,631.6 169.8,631.6 169.97,631.6 170.14,631.6 170.3,631.6 170.47,631.6 170.64,631.6 170.81,631.6 170.97,631.6 171.14,631.6 171.31,631.6 171.47,631.6 171.64,631.6 171.81,631.6 171.98,631.6 172.14,631.6 172.31,631.6 172.48,631.6 172.65,631.6 172.81,631.6 172.98,631.6 173.15,631.6 173.31,631.6 173.48,631.6 173.65,631.6 173.82,631.6 173.98,631.6 174.15,631.6 174.32,631.6 174.49,631.6 174.65,631.6 174.82,631.6 174.99,631.6 175.15,631.6 175.32,631.6 175.49,631.6 175.66,631.6 175.82,631.6 175.99,631.6 176.16,631.6 176.33,631.6 176.49,631.6 176.66,631.6 176.83,631.6 176.99,631.6 177.16,631.6 177.33,631.6 177.5,631.6 177.66,631.6 177.83,631.6 178,631.6 178.16,631.6 178.33,631.6 178.5,631.6 178.67,631.6 178.83,631.6 179,631.6 179.17,631.6 179.34,631.6 179.5,631.6 179.67,631.6 179.84,631.6 180,631.6 180.17,631.6 180.34,631.6 180.51,631.6 180.67,631.6 180.84,631.6 181.01,631.6 181.18,631.6 181.34,631.6 181.51,631.6 181.68,631.6 181.84,631.6 182.01,631.6 182.18,631.6 182.35,631.6 182.51,631.6 182.68,631.6 182.85,631.6 183.02,631.6 183.18,631.6 183.35,631.6 183.52,631.6 183.68,631.6 183.85,631.6 184.02,631.6 184.19,631.6 184.35,631.6 184.52,631.6 184.69,631.6 184.86,631.6 185.02,631.6 185.19,631.6 185.36,631.6 185.52,631.6 185.69,631.6 185.86,631.6 186.03,631.6 186.19,631.6 186.36,631.6 186.53,631.6 186.69,631.6 186.86,631.6 187.03,631.6 187.2,631.6 187.36,631.6 187.53,631.6 187.7,631.6 187.87,631.6 188.03,631.6 188.2,631.6 188.37,631.6 188.53,631.6 188.7,631.6 188.87,631.6 189.04,631.6 189.2,631.6 189.37,631.6 189.54,631.6 189.71,631.6 189.87,631.6 190.04,631.6 190.21,631.6 190.37,631.6 190.54,631.6 190.71,631.6 190.88,631.6 191.04,631.6 191.21,631.6 191.38,631.6 191.55,631.6 191.71,631.6 191.88,631.6 192.05,631.6 192.21,631.6 192.38,631.6 192.55,631.6 192.72,631.6 192.88,631.6 193.05,631.6 193.22,631.6 193.38,631.6 193.55,631.6 193.72,631.6 193.89,631.6 194.05,631.6 194.22,631.6 194.39,631.6 194.56,631.6 194.72,631.6 194.89,631.6 195.06,631.6 195.22,631.6 195.39,631.6 195.56,631.6 195.73,631.6 195.89,631.6 196.06,631.6 196.23,631.6 196.4,631.6 196.56,631.6 196.73,631.6 196.9,631.6 197.06,631.6 197.23,631.6 197.4,631.6 197.57,631.6 197.73,631.6 197.9,631.6 198.07,631.6 198.24,631.6 198.4,631.6 198.57,631.6 198.74,631.6 198.9,631.6 199.07,631.6 199.24,631.6 199.41,631.6 199.57,631.6 199.74,631.6 199.91,631.6 200.07,631.6 200.24,631.6 200.41,631.6 200.58,631.6 200.74,631.6 200.91,631.6 201.08,631.6 201.25,631.6 201.41,631.6 201.58,631.6 201.75,631.6 201.91,631.6 202.08,631.6 202.25,631.6 202.42,631.6 202.58,631.6 202.75,631.6 202.92,631.6 203.09,631.6 203.25,631.6 203.42,631.6 203.59,631.6 203.75,631.6 203.92,631.6 204.09,631.6 204.26,631.6 204.42,631.6 204.59,631.6 204.76,631.6 204.93,631.6" fill="none" stroke="#1a3fd0" stroke-width="3.1" stroke-linejoin="round" stroke-linecap="round" />
<line x1="129.4" y1="400.6" x2="149.2" y2="400.6" stroke="#f8a81a" stroke-width="2.8" />
<text transform="translate(153.6,406.4) scale(1.04,1)" font-size="16.0" text-anchor="start" >XAS</text>
<line x1="129.4" y1="431.9" x2="149.2" y2="431.9" stroke="#1a3fd0" stroke-width="2.8" />
<text transform="translate(153.2,435.4) scale(1.04,1)" font-size="16.0" text-anchor="start" ><tspan font-style="italic">I</tspan><tspan font-size="10" font-style="italic" dy="5">S</tspan></text>
<text transform="translate(86.8,492.6) rotate(-90) scale(1,1.04)" font-size="16.0" text-anchor="start" >La <tspan font-style="italic">M</tspan><tspan font-size="10" font-style="italic" dy="4.5">4</tspan></text>
<text transform="translate(98.9,411.6) rotate(-90) scale(1,1.04)" font-size="16.0" text-anchor="start" >Ni <tspan font-style="italic">L</tspan><tspan font-size="10.5" font-style="italic" dy="5.5">3</tspan></text>
<text transform="translate(160.4,504.9) rotate(-90) scale(1,1.04)" font-size="16.0" text-anchor="start" >Ni <tspan font-style="italic">L</tspan><tspan font-size="10.5" font-style="italic" dy="5">2</tspan></text>
<text transform="translate(-1,355.8) scale(1.0,1)" font-size="19.5" text-anchor="start" font-weight="bold">c</text>
<rect x="283.6" y="365.9" width="155.8" height="130.5" fill="none" stroke="#000" stroke-width="2.4" stroke-linejoin="miter"/>
<line x1="283.6" y1="467.57" x2="290.6" y2="467.57" stroke="#000" stroke-width="2.2" />
<line x1="439.4" y1="467.57" x2="432.4" y2="467.57" stroke="#000" stroke-width="2.2" />
<line x1="283.6" y1="441.84" x2="290.6" y2="441.84" stroke="#000" stroke-width="2.2" />
<line x1="439.4" y1="441.84" x2="432.4" y2="441.84" stroke="#000" stroke-width="2.2" />
<line x1="283.6" y1="416.11" x2="290.6" y2="416.11" stroke="#000" stroke-width="2.2" />
<line x1="439.4" y1="416.11" x2="432.4" y2="416.11" stroke="#000" stroke-width="2.2" />
<line x1="283.6" y1="390.38" x2="290.6" y2="390.38" stroke="#000" stroke-width="2.2" />
<line x1="439.4" y1="390.38" x2="432.4" y2="390.38" stroke="#000" stroke-width="2.2" />
<line x1="328.04" y1="496.4" x2="328.04" y2="489.9" stroke="#000" stroke-width="2.2" />
<line x1="328.04" y1="365.9" x2="328.04" y2="372.4" stroke="#000" stroke-width="2.2" />
<line x1="372.78" y1="496.4" x2="372.78" y2="489.9" stroke="#000" stroke-width="2.2" />
<line x1="372.78" y1="365.9" x2="372.78" y2="372.4" stroke="#000" stroke-width="2.2" />
<line x1="417.52" y1="496.4" x2="417.52" y2="489.9" stroke="#000" stroke-width="2.2" />
<line x1="417.52" y1="365.9" x2="417.52" y2="372.4" stroke="#000" stroke-width="2.2" />
<line x1="305.67" y1="496.4" x2="305.67" y2="492.4" stroke="#000" stroke-width="2.2" />
<line x1="305.67" y1="365.9" x2="305.67" y2="369.9" stroke="#000" stroke-width="2.2" />
<line x1="350.41" y1="496.4" x2="350.41" y2="492.4" stroke="#000" stroke-width="2.2" />
<line x1="350.41" y1="365.9" x2="350.41" y2="369.9" stroke="#000" stroke-width="2.2" />
<line x1="395.15" y1="496.4" x2="395.15" y2="492.4" stroke="#000" stroke-width="2.2" />
<line x1="395.15" y1="365.9" x2="395.15" y2="369.9" stroke="#000" stroke-width="2.2" />
<text transform="translate(275,501.1) scale(1.04,1)" font-size="16.0" text-anchor="end" >0.0</text>
<text transform="translate(277.2,475.37) scale(1.04,1)" font-size="16.0" text-anchor="end" >0.1</text>
<text transform="translate(275,449.64) scale(1.04,1)" font-size="16.0" text-anchor="end" >0.2</text>
<text transform="translate(275,423.91) scale(1.04,1)" font-size="16.0" text-anchor="end" >0.3</text>
<text transform="translate(275,398.18) scale(1.04,1)" font-size="16.0" text-anchor="end" >0.4</text>
<text transform="translate(275,372.45) scale(1.04,1)" font-size="16.0" text-anchor="end" >0.5</text>
<line x1="287.77" y1="494" x2="439.4" y2="494" stroke="#000" stroke-width="1.2" stroke-dasharray="1.2,1.6"/>
<polyline points="283,492.2 284.27,492 286.03,491.75 288.12,491.44 290.37,491.06 292.61,490.62 294.7,490.1 296.7,489.49 298.77,488.8 300.84,488.04 302.85,487.22 304.72,486.37 306.4,485.5 307.87,484.66 309.17,483.84 310.34,482.99 311.41,482.04 312.42,480.93 313.4,479.6 314.33,478.12 315.18,476.56 315.97,474.84 316.71,472.88 317.41,470.59 318.1,467.9 318.75,464.78 319.36,461.31 319.93,457.51 320.48,453.42 321.03,449.07 321.6,444.5 322.18,439.48 322.77,433.94 323.35,428.15 323.93,422.36 324.52,416.82 325.1,411.8 325.68,407.01 326.27,402.19 326.85,397.62 327.43,393.6 328.02,390.43 328.6,388.4 329.18,387.62 329.77,387.87 330.35,388.97 330.93,390.73 331.52,392.93 332.1,395.4 332.68,398.32 333.27,401.9 333.85,405.93 334.43,410.22 335.02,414.58 335.6,418.8 336.17,423.03 336.72,427.46 337.28,431.94 337.84,436.37 338.45,440.6 339.1,444.5 339.79,448.19 340.49,451.79 341.23,455.19 342.02,458.29 342.87,461 343.8,463.2 344.83,464.75 345.96,465.71 347.15,466.27 348.37,466.63 349.6,466.97 350.8,467.5 351.98,468.12 353.16,468.67 354.35,469.21 355.54,469.8 356.72,470.51 357.9,471.4 359.07,472.51 360.24,473.79 361.41,475.19 362.57,476.66 363.73,478.14 364.9,479.6 366.04,481.11 367.15,482.74 368.26,484.39 369.4,485.96 370.6,487.36 371.9,488.5 373.21,489.34 374.48,489.94 375.81,490.38 377.31,490.71 379.07,491 381.2,491.3 383.57,491.6 386.07,491.84 388.84,492.03 392,492.2 395.68,492.35 400,492.5 405.59,492.65 412.47,492.8 419.88,492.93 427.01,493.04 433.12,493.13 437.4,493.2" fill="none" stroke="#1a3fd0" stroke-width="3.0" stroke-linejoin="round" stroke-linecap="round" />
<polyline points="283,493.4 284.27,493.2 286.03,492.95 288.12,492.64 290.37,492.26 292.61,491.82 294.7,491.3 296.7,490.69 298.77,490 300.84,489.24 302.85,488.42 304.72,487.57 306.4,486.7 307.87,485.86 309.17,485.04 310.34,484.19 311.41,483.24 312.42,482.13 313.4,480.8 314.33,478.12 315.18,476.56 315.97,474.84 315.71,472.88 316.41,470.59 317.1,467.9 317.75,464.78 318.36,461.31 318.93,457.51 319.48,453.42 320.03,449.07 320.6,444.5 321.18,439.48 321.77,433.94 322.35,428.15 322.93,422.36 323.52,416.82 324.1,411.8 324.68,407.01 325.27,402.19 325.85,397.62 326.43,393.6 327.02,390.43 327.6,388.4 328.18,387.62 328.77,387.87 329.35,388.97 329.93,390.73 330.52,392.93 331.1,395.4 331.68,398.32 332.27,401.9 332.85,405.93 333.43,410.22 334.02,414.58 334.6,418.8 335.17,423.03 335.72,427.46 336.28,431.94 336.84,436.37 337.45,440.6 338.1,444.5 338.79,448.19 339.49,451.79 340.23,455.19 341.02,458.29 341.87,461 342.8,463.2 343.83,464.75 345.96,465.71 347.15,466.27 348.37,466.63 349.6,466.97 350.8,467.5 351.98,468.12 353.16,468.67 354.35,469.21 355.54,469.8 356.72,470.51 357.9,471.4 359.07,472.51 360.24,473.79 361.41,475.19 362.57,476.66 363.73,478.14 364.9,479.6 366.04,481.11 367.15,482.74 368.26,484.39 369.4,485.96 370.6,487.36 371.9,488.5 373.21,488.39 374.48,490.1 375.81,489.91 377.31,491.09 379.07,491.45 381.2,489.74 383.57,489.85 386.07,493.05 388.84,491.16 392,491.24 395.68,494.13 400,492.39 405.59,493.86 412.47,492.71 419.88,493.43 427.01,491.78 433.12,493.62 437.4,494.52" fill="none" stroke="#dd1a1a" stroke-width="3.0" stroke-linejoin="round"  stroke-dasharray="4,3" stroke-linecap="butt"/>
<text transform="translate(334.2,388.1) scale(1.04,1)" font-size="15.8" text-anchor="start" >(1/4 1/4 1.86)</text>
<line x1="345" y1="406.5" x2="364" y2="406.5" stroke="#1a3fd0" stroke-width="2.9" />
<text transform="translate(368.2,410.9) scale(1.0,1)" font-size="17" text-anchor="start" font-family="Liberation Serif" font-style="italic">&#960;</text>
<line x1="345" y1="422.3" x2="364" y2="422.3" stroke="#dd1a1a" stroke-width="3.2" stroke-dasharray="4,3.5"/>
<text transform="translate(368,426.2) scale(1.0,1)" font-size="17.5" text-anchor="start" font-family="Liberation Serif">&#963;</text>
<text transform="translate(377.5,425.8) scale(1.04,1)" font-size="15.8" text-anchor="start" xml:space="preserve"> (x12.6)</text>
<text transform="translate(383.6,458) scale(1.04,1)" font-size="15.8" text-anchor="start" >100 K</text>
<text transform="translate(236.2,431.7) rotate(-90) scale(1,0.98)" font-size="17.2" text-anchor="middle" ><tspan font-style="italic">I</tspan><tspan font-size="11" font-style="italic" dy="4">S</tspan><tspan dy="-4">/</tspan><tspan font-style="italic">I</tspan><tspan font-size="11" font-style="italic" dy="4">0</tspan><tspan dy="-4">(arb. units)</tspan></text>
<rect x="283.4" y="507.9" width="156" height="130.3" fill="none" stroke="#000" stroke-width="2.4" stroke-linejoin="miter"/>
<line x1="283.4" y1="619.4" x2="290.4" y2="619.4" stroke="#000" stroke-width="2.2" />
<line x1="439.4" y1="619.4" x2="432.4" y2="619.4" stroke="#000" stroke-width="2.2" />
<line x1="283.4" y1="600.7" x2="290.4" y2="600.7" stroke="#000" stroke-width="2.2" />
<line x1="439.4" y1="600.7" x2="432.4" y2="600.7" stroke="#000" stroke-width="2.2" />
<line x1="283.4" y1="582" x2="290.4" y2="582" stroke="#000" stroke-width="2.2" />
<line x1="439.4" y1="582" x2="432.4" y2="582" stroke="#000" stroke-width="2.2" />
<line x1="283.4" y1="563.3" x2="290.4" y2="563.3" stroke="#000" stroke-width="2.2" />
<line x1="439.4" y1="563.3" x2="432.4" y2="563.3" stroke="#000" stroke-width="2.2" />
<line x1="283.4" y1="544.6" x2="290.4" y2="544.6" stroke="#000" stroke-width="2.2" />
<line x1="439.4" y1="544.6" x2="432.4" y2="544.6" stroke="#000" stroke-width="2.2" />
<line x1="283.4" y1="525.9" x2="290.4" y2="525.9" stroke="#000" stroke-width="2.2" />
<line x1="439.4" y1="525.9" x2="432.4" y2="525.9" stroke="#000" stroke-width="2.2" />
<line x1="328.04" y1="638.2" x2="328.04" y2="631.7" stroke="#000" stroke-width="2.2" />
<line x1="328.04" y1="507.9" x2="328.04" y2="514.4" stroke="#000" stroke-width="2.2" />
<line x1="372.78" y1="638.2" x2="372.78" y2="631.7" stroke="#000" stroke-width="2.2" />
<line x1="372.78" y1="507.9" x2="372.78" y2="514.4" stroke="#000" stroke-width="2.2" />
<line x1="417.52" y1="638.2" x2="417.52" y2="631.7" stroke="#000" stroke-width="2.2" />
<line x1="417.52" y1="507.9" x2="417.52" y2="514.4" stroke="#000" stroke-width="2.2" />
<line x1="305.67" y1="638.2" x2="305.67" y2="634.2" stroke="#000" stroke-width="2.2" />
<line x1="305.67" y1="507.9" x2="305.67" y2="511.9" stroke="#000" stroke-width="2.2" />
<line x1="350.41" y1="638.2" x2="350.41" y2="634.2" stroke="#000" stroke-width="2.2" />
<line x1="350.41" y1="507.9" x2="350.41" y2="511.9" stroke="#000" stroke-width="2.2" />
<line x1="395.15" y1="638.2" x2="395.15" y2="634.2" stroke="#000" stroke-width="2.2" />
<line x1="395.15" y1="507.9" x2="395.15" y2="511.9" stroke="#000" stroke-width="2.2" />
<text transform="translate(275,643.7) scale(1.04,1)" font-size="16.0" text-anchor="end" >0.00</text>
<text transform="translate(275,606.3) scale(1.04,1)" font-size="16.0" text-anchor="end" >0.04</text>
<text transform="translate(275,568.9) scale(1.04,1)" font-size="16.0" text-anchor="end" >0.08</text>
<text transform="translate(275,531.5) scale(1.04,1)" font-size="16.0" text-anchor="end" >0.12</text>
<text transform="translate(283.3,658) scale(1.04,1)" font-size="16.0" text-anchor="middle" >850</text>
<text transform="translate(328.04,658) scale(1.04,1)" font-size="16.0" text-anchor="middle" >852</text>
<text transform="translate(372.78,658) scale(1.04,1)" font-size="16.0" text-anchor="middle" >854</text>
<text transform="translate(417.52,658) scale(1.04,1)" font-size="16.0" text-anchor="middle" >856</text>
<text transform="translate(289,680.3) scale(1.04,1)" font-size="15.9" text-anchor="start" >Photon energy (eV)</text>
<polyline points="283,563.5 283.48,565.02 284.13,567.13 284.91,569.62 285.79,572.31 286.73,575 287.7,577.5 288.73,579.91 289.86,582.42 291.06,584.93 292.28,587.34 293.51,589.57 294.7,591.5 295.91,593.15 297.16,594.58 298.42,595.82 299.63,596.9 300.74,597.81 301.7,598.6 302.46,599.25 303.04,599.75 303.52,600.09 303.99,600.29 304.52,600.32 305.2,600.2 306.06,599.97 307.04,599.65 308.08,599.18 309.14,598.48 310.16,597.51 311.1,596.2 311.94,594.64 312.73,592.88 313.48,590.85 314.21,588.45 314.94,585.6 315.7,582.2 316.49,578 317.3,573.02 318.12,567.59 318.92,562.02 319.68,556.65 320.4,551.8 321.04,547.29 321.61,542.83 322.15,538.57 322.69,534.64 323.26,531.21 323.9,528.4 324.61,526.25 325.38,524.66 326.18,523.54 326.99,522.86 327.8,522.53 328.6,522.5 329.38,522.93 330.17,523.91 330.95,525.24 331.73,526.76 332.52,528.27 333.3,529.6 334.08,530.91 334.87,532.37 335.66,533.84 336.44,535.14 337.22,536.11 338,536.6 338.77,536.57 339.54,536.16 340.3,535.42 341.06,534.42 341.83,533.22 342.6,531.9 343.36,530.28 344.11,528.29 344.87,526.09 345.64,523.89 346.45,521.87 347.3,520.2 348.23,518.82 349.22,517.58 350.25,516.51 351.28,515.66 352.27,515.07 353.2,514.8 354.03,514.86 354.77,515.21 355.48,515.83 356.21,516.69 357,517.75 357.9,519 358.93,520.52 360.06,522.34 361.26,524.38 362.48,526.52 363.71,528.66 364.9,530.7 366.07,532.62 367.23,534.51 368.4,536.4 369.57,538.32 370.73,540.31 371.9,542.4 373.07,544.64 374.23,547.01 375.4,549.45 376.57,551.89 377.73,554.26 378.9,556.5 380.04,558.55 381.14,560.45 382.25,562.28 383.39,564.13 384.59,566.08 385.9,568.2 387.33,570.6 388.86,573.23 390.46,575.95 392.09,578.64 393.71,581.17 395.3,583.4 396.85,585.33 398.4,587.06 399.95,588.63 401.5,590.07 403.05,591.42 404.6,592.7 406.16,593.88 407.73,594.92 409.29,595.87 410.86,596.77 412.43,597.66 414,598.6 415.57,599.59 417.14,600.58 418.71,601.57 420.27,602.55 421.84,603.5 423.4,604.4 425,605.28 426.63,606.16 428.27,607.01 429.86,607.8 431.35,608.51 432.7,609.1 433.95,609.56 435.14,609.92 436.23,610.19 437.2,610.4 438,610.56 438.6,610.7" fill="none" stroke="#f8a81a" stroke-width="3.4" stroke-linejoin="round" stroke-linecap="round" />
<polyline points="283,563.5 283.48,565.02 284.13,567.13 284.91,569.62 285.79,572.31 286.73,575 287.7,577.5 288.73,579.91 289.86,582.42 291.06,584.93 292.28,587.34 293.51,589.57 294.7,591.5 295.91,593.15 297.16,594.58 298.42,595.82 299.63,596.9 300.74,597.81 301.7,598.6 302.46,599.25 303.04,599.75 303.52,600.09 303.99,600.29 304.52,600.32 305.2,600.2 306.06,599.97 307.04,599.65 308.08,599.18 309.14,598.48 310.16,597.51 311.1,596.2 311.94,594.64 312.73,592.88 313.48,590.85 314.21,588.45 314.94,585.6 315.7,582.2 316.49,578 317.3,573.02 318.12,567.59 318.92,562.02 319.68,556.65 320.4,551.8 321.04,547.29 321.61,542.83 322.15,538.57 322.69,534.64 323.26,531.21 323.9,528.4 324.61,526.25 325.38,524.66 326.18,523.54 326.99,522.86 327.8,522.53 328.6,522.5 329.38,522.93 330.17,523.91 330.95,525.24 331.73,526.76 332.52,528.27 333.3,529.6 334.08,530.91 334.87,532.37 335.66,533.84 336.44,535.14 337.22,536.11 338,536.6 338.77,536.57 339.54,536.16 340.3,535.42 341.06,534.42 341.83,533.22 342.6,531.9 343.36,530.28 344.11,528.29 344.87,526.09 345.64,523.89 346.45,521.87 347.3,520.2 348.23,518.82 349.22,517.58 350.25,516.51 351.28,515.66 352.27,515.07 353.2,514.8 354.03,514.86 354.77,515.21 355.48,515.83 356.21,516.69 357,517.75 357.9,519 358.93,520.52 360.06,522.34 361.26,524.38 362.48,526.52 363.71,528.66 364.9,530.7 366.07,532.62 367.23,534.51 368.4,536.4 369.57,538.32 370.73,540.31 371.9,542.4 373.07,544.64 374.23,547.01 375.4,549.45 376.57,551.89 377.73,554.26 378.9,556.5 380.04,558.55 381.14,560.45 382.25,562.28 383.39,564.13 384.59,566.08 385.9,568.2 387.33,570.6 388.86,573.23 390.46,575.95 392.09,578.64 393.71,581.17 395.3,583.4 396.85,585.33 398.4,587.06 399.95,588.63 401.5,590.07 403.05,591.42 404.6,592.7 406.16,593.88 407.73,594.92 409.29,595.87 410.86,596.77 412.43,597.66 414,598.6 415.57,599.59 417.14,600.58 418.71,601.57 420.27,602.55 421.84,603.5 423.4,604.4 425,605.28 426.63,606.16 428.27,607.01 429.86,607.8 431.35,608.51 432.7,609.1 433.95,609.56 435.14,609.92 436.23,610.19 437.2,610.4 438,610.56 438.6,610.7" fill="none" stroke="#111" stroke-width="3.2" stroke-linejoin="round"  stroke-dasharray="3.2,2.3" stroke-linecap="butt"/>
<line x1="327.4" y1="599.7" x2="345" y2="599.7" stroke="#111" stroke-width="3.2" stroke-dasharray="3.2,2.3"/>
<text transform="translate(350.8,605.4) scale(1.04,1)" font-size="15.8" text-anchor="start" >200 K</text>
<line x1="327.4" y1="618.5" x2="345" y2="618.5" stroke="#f8a81a" stroke-width="3" />
<text transform="translate(350.8,624.2) scale(1.04,1)" font-size="15.8" text-anchor="start" >20 K</text>
<text transform="translate(236.3,571.9) rotate(-90) scale(1,0.98)" font-size="16.3" text-anchor="middle" >XAS &#160;(arb. units)</text>
<text transform="translate(210.6,356.8) scale(1.0,1)" font-size="19.5" text-anchor="start" font-weight="bold">d</text>
<text transform="translate(210.6,506.5) scale(1.0,1)" font-size="19.5" text-anchor="start" font-weight="bold">e</text>
<rect x="516.6" y="366.2" width="156.7" height="272" fill="none" stroke="#000" stroke-width="2.4" stroke-linejoin="miter"/>
<line x1="516.6" y1="599.3" x2="523.6" y2="599.3" stroke="#000" stroke-width="2.2" />
<line x1="673.3" y1="599.3" x2="666.3" y2="599.3" stroke="#000" stroke-width="2.2" />
<line x1="516.6" y1="560.4" x2="523.6" y2="560.4" stroke="#000" stroke-width="2.2" />
<line x1="673.3" y1="560.4" x2="666.3" y2="560.4" stroke="#000" stroke-width="2.2" />
<line x1="516.6" y1="521.5" x2="523.6" y2="521.5" stroke="#000" stroke-width="2.2" />
<line x1="673.3" y1="521.5" x2="666.3" y2="521.5" stroke="#000" stroke-width="2.2" />
<line x1="516.6" y1="482.6" x2="523.6" y2="482.6" stroke="#000" stroke-width="2.2" />
<line x1="673.3" y1="482.6" x2="666.3" y2="482.6" stroke="#000" stroke-width="2.2" />
<line x1="516.6" y1="443.7" x2="523.6" y2="443.7" stroke="#000" stroke-width="2.2" />
<line x1="673.3" y1="443.7" x2="666.3" y2="443.7" stroke="#000" stroke-width="2.2" />
<line x1="516.6" y1="404.8" x2="523.6" y2="404.8" stroke="#000" stroke-width="2.2" />
<line x1="673.3" y1="404.8" x2="666.3" y2="404.8" stroke="#000" stroke-width="2.2" />
<line x1="538.84" y1="638.2" x2="538.84" y2="631.7" stroke="#000" stroke-width="2.2" />
<line x1="538.84" y1="366.2" x2="538.84" y2="372.7" stroke="#000" stroke-width="2.2" />
<line x1="583.72" y1="638.2" x2="583.72" y2="631.7" stroke="#000" stroke-width="2.2" />
<line x1="583.72" y1="366.2" x2="583.72" y2="372.7" stroke="#000" stroke-width="2.2" />
<line x1="628.6" y1="638.2" x2="628.6" y2="631.7" stroke="#000" stroke-width="2.2" />
<line x1="628.6" y1="366.2" x2="628.6" y2="372.7" stroke="#000" stroke-width="2.2" />
<line x1="561.28" y1="638.2" x2="561.28" y2="634.2" stroke="#000" stroke-width="2.2" />
<line x1="561.28" y1="366.2" x2="561.28" y2="370.2" stroke="#000" stroke-width="2.2" />
<line x1="606.16" y1="638.2" x2="606.16" y2="634.2" stroke="#000" stroke-width="2.2" />
<line x1="606.16" y1="366.2" x2="606.16" y2="370.2" stroke="#000" stroke-width="2.2" />
<line x1="651.04" y1="638.2" x2="651.04" y2="634.2" stroke="#000" stroke-width="2.2" />
<line x1="651.04" y1="366.2" x2="651.04" y2="370.2" stroke="#000" stroke-width="2.2" />
<text transform="translate(509.4,643.5) scale(1.04,1)" font-size="16.0" text-anchor="end" >0.00</text>
<text transform="translate(510.6,604.6) scale(1.04,1)" font-size="16.0" text-anchor="end" >0.01</text>
<text transform="translate(509.4,565.7) scale(1.04,1)" font-size="16.0" text-anchor="end" >0.02</text>
<text transform="translate(509.4,526.8) scale(1.04,1)" font-size="16.0" text-anchor="end" >0.03</text>
<text transform="translate(509.4,487.9) scale(1.04,1)" font-size="16.0" text-anchor="end" >0.04</text>
<text transform="translate(509.4,449) scale(1.04,1)" font-size="16.0" text-anchor="end" >0.05</text>
<text transform="translate(509.4,410.1) scale(1.04,1)" font-size="16.0" text-anchor="end" >0.06</text>
<text transform="translate(538.84,661) scale(1.04,1)" font-size="16.0" text-anchor="middle" >1.6</text>
<text transform="translate(583.72,661) scale(1.04,1)" font-size="16.0" text-anchor="middle" >1.8</text>
<text transform="translate(628.6,661) scale(1.04,1)" font-size="16.0" text-anchor="middle" >2.0</text>
<text transform="translate(673.48,661) scale(1.04,1)" font-size="16.0" text-anchor="middle" >2.2</text>
<text transform="translate(564,680.8) scale(1.04,1)" font-size="15.8" text-anchor="start" letter-spacing="0.75"><tspan font-style="italic">L</tspan> (r.l.u.)</text>
<text transform="translate(465.6,502.2) rotate(-90) scale(1,0.98)" font-size="17.0" text-anchor="middle" ><tspan font-style="italic">I</tspan><tspan font-size="11" font-style="italic" dy="4">L</tspan><tspan dy="-4">(arb. units)</tspan></text>
<line x1="628.6" y1="368.2" x2="628.6" y2="637.2" stroke="#000" stroke-width="2.4" stroke-dasharray="3,3" stroke-linecap="butt"/>
<polyline points="516.3,601 517.5,601.4 520.7,607.9 523.2,596.5 527.3,603 529.7,594 533,598.1 533.8,591.6 536.3,589.1 539.5,592.4 541.2,584.2 544.4,581.8 545.3,579.3 547.7,581 549.3,574.4 551.8,581.8 555.1,568.7 557.5,572 560.8,561.3 564.1,556.4 567.3,558.1 569.8,548.2 572.2,550.7 574.7,537.6 578,534.3 579.6,533.5 581.2,521.3 583.7,519.6 585.3,507.4 587.8,511.4 588.6,504.9 591,500.8 592.3,490.8 594.1,489.9 596.9,476.2 598.7,474.4 602.3,461.6 603.2,458 605.1,457.1 607.8,448.9 610.5,439.7 612.4,437.9 615.1,428.8 616.9,423.3 618.8,424.2 620.6,406.9 622.4,421.5 625.1,417.8 627.3,403.2 629.7,412.4 632,418.8 634.6,396 636.5,412.4 638.3,419.7 640.7,426.1 643.4,404.2 645.8,414.2 648,448 649.2,427 651.6,447 652.9,433.4 654.7,449.8" fill="none" stroke="#1a3fd0" stroke-width="3.1" stroke-linejoin="round" stroke-linecap="round" />
<text transform="translate(523.5,390.6) scale(1.08,1)" font-size="15.8" text-anchor="start" >Ni <tspan font-style="italic">L</tspan><tspan font-size="10.5" font-style="italic" dy="5.5">2</tspan><tspan dy="-5.5">(870 eV)</tspan></text>
<text transform="translate(523.8,421) scale(1.04,1)" font-size="15.8" text-anchor="start" >(1/4 1/4 <tspan font-style="italic">L</tspan>)</text>
<text transform="translate(526.5,452.6) scale(1.04,1)" font-size="15.8" text-anchor="start" >20 K</text>
<text transform="translate(454.5,358.6) scale(1.0,1)" font-size="19.5" text-anchor="start" font-weight="bold">f</text>
<defs>
<radialGradient id="gLa" cx="0.5" cy="0.5" r="0.5" fx="0.5" fy="0.5">
<stop offset="0" stop-color="#fafff6"/><stop offset="0.12" stop-color="#d0f8c0"/><stop offset="0.35" stop-color="#72c462"/><stop offset="0.75" stop-color="#58aa4b"/><stop offset="1" stop-color="#3e8634"/></radialGradient>
<radialGradient id="gO" cx="0.5" cy="0.5" r="0.5" fx="0.5" fy="0.45">
<stop offset="0" stop-color="#ff9090"/><stop offset="0.3" stop-color="#f01818"/><stop offset="0.8" stop-color="#dc1010"/><stop offset="1" stop-color="#b80c0c"/></radialGradient>
<radialGradient id="gNi" cx="0.5" cy="0.5" r="0.5">
<stop offset="0" stop-color="#b8b8b8"/><stop offset="1" stop-color="#9a9a9a"/></radialGradient>
</defs>
<circle cx="155.75" cy="70.7" r="3.3" fill="url(#gO)"/>
<circle cx="157.25" cy="262.05" r="3.3" fill="url(#gO)"/>
<polygon points="148.8,50.8 127.55,72.7 141.85,75.8" fill="#8e8e8e" stroke="#8e8e8e" stroke-width="0.4" stroke-linejoin="round"/><polygon points="148.8,50.8 141.85,75.8 170.05,73.8" fill="#a5a5a5" stroke="#a5a5a5" stroke-width="0.4" stroke-linejoin="round"/><polygon points="148.8,95.7 127.55,72.7 141.85,75.8" fill="#858585" stroke="#858585" stroke-width="0.4" stroke-linejoin="round"/><polygon points="148.8,95.7 141.85,75.8 170.05,73.8" fill="#979797" stroke="#979797" stroke-width="0.4" stroke-linejoin="round"/><circle cx="148.8" cy="73.25" r="4" fill="#b4b4b4" fill-opacity="0.5"/><circle cx="155.75" cy="70.7" r="3" fill="#d06060" fill-opacity="0.25"/>
<polygon points="150.3,242.15 129.05,264.05 143.35,267.15" fill="#8e8e8e" stroke="#8e8e8e" stroke-width="0.4" stroke-linejoin="round"/><polygon points="150.3,242.15 143.35,267.15 171.55,265.15" fill="#a5a5a5" stroke="#a5a5a5" stroke-width="0.4" stroke-linejoin="round"/><polygon points="150.3,287.05 129.05,264.05 143.35,267.15" fill="#858585" stroke="#858585" stroke-width="0.4" stroke-linejoin="round"/><polygon points="150.3,287.05 143.35,267.15 171.55,265.15" fill="#979797" stroke="#979797" stroke-width="0.4" stroke-linejoin="round"/><circle cx="150.3" cy="264.6" r="4" fill="#b4b4b4" fill-opacity="0.5"/><circle cx="157.25" cy="262.05" r="3" fill="#d06060" fill-opacity="0.25"/>
<circle cx="127.55" cy="72.7" r="3.3" fill="url(#gO)"/>
<circle cx="129.05" cy="264.05" r="3.3" fill="url(#gO)"/>
<circle cx="148.8" cy="50.8" r="3.3" fill="url(#gO)"/>
<circle cx="148.8" cy="95.7" r="3.3" fill="url(#gO)"/>
<circle cx="150.3" cy="242.15" r="3.3" fill="url(#gO)"/>
<circle cx="150.3" cy="287.05" r="3.3" fill="url(#gO)"/>
<circle cx="170.05" cy="73.8" r="3.3" fill="url(#gO)"/>
<circle cx="171.55" cy="265.15" r="3.3" fill="url(#gO)"/>
<circle cx="149.2" cy="125.25" r="8.6" fill="url(#gLa)"/>
<circle cx="149.2" cy="168.55" r="8.6" fill="url(#gLa)"/>
<circle cx="149.2" cy="212.35" r="8.6" fill="url(#gLa)"/>
<circle cx="120.6" cy="53.4" r="8.6" fill="url(#gLa)"/>
<circle cx="120.6" cy="97.1" r="8.6" fill="url(#gLa)"/>
<circle cx="122.1" cy="244.75" r="8.6" fill="url(#gLa)"/>
<circle cx="122.1" cy="288.45" r="8.6" fill="url(#gLa)"/>
<circle cx="127.95" cy="145.55" r="3.3" fill="url(#gO)"/>
<circle cx="127.95" cy="190.45" r="3.3" fill="url(#gO)"/>
<circle cx="99.35" cy="74.7" r="3.3" fill="url(#gO)"/>
<circle cx="100.85" cy="266.05" r="3.3" fill="url(#gO)"/>
<circle cx="163.1" cy="54.5" r="8.6" fill="url(#gLa)"/>
<circle cx="163.1" cy="98.2" r="8.6" fill="url(#gLa)"/>
<circle cx="164.6" cy="245.85" r="8.6" fill="url(#gLa)"/>
<circle cx="164.6" cy="289.55" r="8.6" fill="url(#gLa)"/>
<circle cx="170.45" cy="146.65" r="3.3" fill="url(#gO)"/>
<circle cx="170.45" cy="191.55" r="3.3" fill="url(#gO)"/>
<circle cx="141.85" cy="75.8" r="3.3" fill="url(#gO)"/>
<circle cx="143.35" cy="267.15" r="3.3" fill="url(#gO)"/>
<circle cx="184.35" cy="76.9" r="3.3" fill="url(#gO)"/>
<circle cx="185.85" cy="268.25" r="3.3" fill="url(#gO)"/>
<polygon points="121,125.65 99.75,147.55 114.05,150.65" fill="#8e8e8e" stroke="#8e8e8e" stroke-width="0.4" stroke-linejoin="round"/><polygon points="121,125.65 114.05,150.65 142.25,148.65" fill="#a5a5a5" stroke="#a5a5a5" stroke-width="0.4" stroke-linejoin="round"/><polygon points="121,170.55 99.75,147.55 114.05,150.65" fill="#858585" stroke="#858585" stroke-width="0.4" stroke-linejoin="round"/><polygon points="121,170.55 114.05,150.65 142.25,148.65" fill="#979797" stroke="#979797" stroke-width="0.4" stroke-linejoin="round"/><circle cx="121" cy="148.1" r="4" fill="#b4b4b4" fill-opacity="0.5"/><circle cx="127.95" cy="145.55" r="3" fill="#d06060" fill-opacity="0.25"/>
<polygon points="121,170.55 99.75,192.45 114.05,195.55" fill="#8e8e8e" stroke="#8e8e8e" stroke-width="0.4" stroke-linejoin="round"/><polygon points="121,170.55 114.05,195.55 142.25,193.55" fill="#a5a5a5" stroke="#a5a5a5" stroke-width="0.4" stroke-linejoin="round"/><polygon points="121,215.45 99.75,192.45 114.05,195.55" fill="#858585" stroke="#858585" stroke-width="0.4" stroke-linejoin="round"/><polygon points="121,215.45 114.05,195.55 142.25,193.55" fill="#979797" stroke="#979797" stroke-width="0.4" stroke-linejoin="round"/><circle cx="121" cy="193" r="4" fill="#b4b4b4" fill-opacity="0.5"/><circle cx="127.95" cy="190.45" r="3" fill="#d06060" fill-opacity="0.25"/>
<polygon points="92.4,54.8 71.15,76.7 85.45,79.8" fill="#8e8e8e" stroke="#8e8e8e" stroke-width="0.4" stroke-linejoin="round"/><polygon points="92.4,54.8 85.45,79.8 113.65,77.8" fill="#a5a5a5" stroke="#a5a5a5" stroke-width="0.4" stroke-linejoin="round"/><polygon points="92.4,99.7 71.15,76.7 85.45,79.8" fill="#858585" stroke="#858585" stroke-width="0.4" stroke-linejoin="round"/><polygon points="92.4,99.7 85.45,79.8 113.65,77.8" fill="#979797" stroke="#979797" stroke-width="0.4" stroke-linejoin="round"/><circle cx="92.4" cy="77.25" r="4" fill="#b4b4b4" fill-opacity="0.5"/><circle cx="99.35" cy="74.7" r="3" fill="#d06060" fill-opacity="0.25"/>
<polygon points="93.9,246.15 72.65,268.05 86.95,271.15" fill="#8e8e8e" stroke="#8e8e8e" stroke-width="0.4" stroke-linejoin="round"/><polygon points="93.9,246.15 86.95,271.15 115.15,269.15" fill="#a5a5a5" stroke="#a5a5a5" stroke-width="0.4" stroke-linejoin="round"/><polygon points="93.9,291.05 72.65,268.05 86.95,271.15" fill="#858585" stroke="#858585" stroke-width="0.4" stroke-linejoin="round"/><polygon points="93.9,291.05 86.95,271.15 115.15,269.15" fill="#979797" stroke="#979797" stroke-width="0.4" stroke-linejoin="round"/><circle cx="93.9" cy="268.6" r="4" fill="#b4b4b4" fill-opacity="0.5"/><circle cx="100.85" cy="266.05" r="3" fill="#d06060" fill-opacity="0.25"/>
<circle cx="99.75" cy="147.55" r="3.3" fill="url(#gO)"/>
<circle cx="99.75" cy="192.45" r="3.3" fill="url(#gO)"/>
<circle cx="71.15" cy="76.7" r="3.3" fill="url(#gO)"/>
<circle cx="72.65" cy="268.05" r="3.3" fill="url(#gO)"/>
<polygon points="163.5,126.75 142.25,148.65 156.55,151.75" fill="#8e8e8e" stroke="#8e8e8e" stroke-width="0.4" stroke-linejoin="round"/><polygon points="163.5,126.75 156.55,151.75 184.75,149.75" fill="#a5a5a5" stroke="#a5a5a5" stroke-width="0.4" stroke-linejoin="round"/><polygon points="163.5,171.65 142.25,148.65 156.55,151.75" fill="#858585" stroke="#858585" stroke-width="0.4" stroke-linejoin="round"/><polygon points="163.5,171.65 156.55,151.75 184.75,149.75" fill="#979797" stroke="#979797" stroke-width="0.4" stroke-linejoin="round"/><circle cx="163.5" cy="149.2" r="4" fill="#b4b4b4" fill-opacity="0.5"/><circle cx="170.45" cy="146.65" r="3" fill="#d06060" fill-opacity="0.25"/>
<polygon points="163.5,171.65 142.25,193.55 156.55,196.65" fill="#8e8e8e" stroke="#8e8e8e" stroke-width="0.4" stroke-linejoin="round"/><polygon points="163.5,171.65 156.55,196.65 184.75,194.65" fill="#a5a5a5" stroke="#a5a5a5" stroke-width="0.4" stroke-linejoin="round"/><polygon points="163.5,216.55 142.25,193.55 156.55,196.65" fill="#858585" stroke="#858585" stroke-width="0.4" stroke-linejoin="round"/><polygon points="163.5,216.55 156.55,196.65 184.75,194.65" fill="#979797" stroke="#979797" stroke-width="0.4" stroke-linejoin="round"/><circle cx="163.5" cy="194.1" r="4" fill="#b4b4b4" fill-opacity="0.5"/><circle cx="170.45" cy="191.55" r="3" fill="#d06060" fill-opacity="0.25"/>
<polygon points="134.9,55.9 113.65,77.8 127.95,80.9" fill="#8e8e8e" stroke="#8e8e8e" stroke-width="0.4" stroke-linejoin="round"/><polygon points="134.9,55.9 127.95,80.9 156.15,78.9" fill="#a5a5a5" stroke="#a5a5a5" stroke-width="0.4" stroke-linejoin="round"/><polygon points="134.9,100.8 113.65,77.8 127.95,80.9" fill="#858585" stroke="#858585" stroke-width="0.4" stroke-linejoin="round"/><polygon points="134.9,100.8 127.95,80.9 156.15,78.9" fill="#979797" stroke="#979797" stroke-width="0.4" stroke-linejoin="round"/><circle cx="134.9" cy="78.35" r="4" fill="#b4b4b4" fill-opacity="0.5"/><circle cx="141.85" cy="75.8" r="3" fill="#d06060" fill-opacity="0.25"/>
<polygon points="136.4,247.25 115.15,269.15 129.45,272.25" fill="#8e8e8e" stroke="#8e8e8e" stroke-width="0.4" stroke-linejoin="round"/><polygon points="136.4,247.25 129.45,272.25 157.65,270.25" fill="#a5a5a5" stroke="#a5a5a5" stroke-width="0.4" stroke-linejoin="round"/><polygon points="136.4,292.15 115.15,269.15 129.45,272.25" fill="#858585" stroke="#858585" stroke-width="0.4" stroke-linejoin="round"/><polygon points="136.4,292.15 129.45,272.25 157.65,270.25" fill="#979797" stroke="#979797" stroke-width="0.4" stroke-linejoin="round"/><circle cx="136.4" cy="269.7" r="4" fill="#b4b4b4" fill-opacity="0.5"/><circle cx="143.35" cy="267.15" r="3" fill="#d06060" fill-opacity="0.25"/>
<circle cx="121" cy="125.65" r="3.3" fill="url(#gO)"/>
<circle cx="121" cy="170.55" r="3.3" fill="url(#gO)"/>
<circle cx="121" cy="215.45" r="3.3" fill="url(#gO)"/>
<circle cx="92.4" cy="54.8" r="3.3" fill="url(#gO)"/>
<circle cx="92.4" cy="99.7" r="3.3" fill="url(#gO)"/>
<circle cx="93.9" cy="246.15" r="3.3" fill="url(#gO)"/>
<circle cx="93.9" cy="291.05" r="3.3" fill="url(#gO)"/>
<circle cx="142.25" cy="148.65" r="3.3" fill="url(#gO)"/>
<circle cx="142.25" cy="193.55" r="3.3" fill="url(#gO)"/>
<circle cx="113.65" cy="77.8" r="3.3" fill="url(#gO)"/>
<circle cx="115.15" cy="269.15" r="3.3" fill="url(#gO)"/>
<polygon points="177.4,57 156.15,78.9 170.45,82" fill="#8e8e8e" stroke="#8e8e8e" stroke-width="0.4" stroke-linejoin="round"/><polygon points="177.4,57 170.45,82 198.65,80" fill="#a5a5a5" stroke="#a5a5a5" stroke-width="0.4" stroke-linejoin="round"/><polygon points="177.4,101.9 156.15,78.9 170.45,82" fill="#858585" stroke="#858585" stroke-width="0.4" stroke-linejoin="round"/><polygon points="177.4,101.9 170.45,82 198.65,80" fill="#979797" stroke="#979797" stroke-width="0.4" stroke-linejoin="round"/><circle cx="177.4" cy="79.45" r="4" fill="#b4b4b4" fill-opacity="0.5"/><circle cx="184.35" cy="76.9" r="3" fill="#d06060" fill-opacity="0.25"/>
<polygon points="178.9,248.35 157.65,270.25 171.95,273.35" fill="#8e8e8e" stroke="#8e8e8e" stroke-width="0.4" stroke-linejoin="round"/><polygon points="178.9,248.35 171.95,273.35 200.15,271.35" fill="#a5a5a5" stroke="#a5a5a5" stroke-width="0.4" stroke-linejoin="round"/><polygon points="178.9,293.25 157.65,270.25 171.95,273.35" fill="#858585" stroke="#858585" stroke-width="0.4" stroke-linejoin="round"/><polygon points="178.9,293.25 171.95,273.35 200.15,271.35" fill="#979797" stroke="#979797" stroke-width="0.4" stroke-linejoin="round"/><circle cx="178.9" cy="270.8" r="4" fill="#b4b4b4" fill-opacity="0.5"/><circle cx="185.85" cy="268.25" r="3" fill="#d06060" fill-opacity="0.25"/>
<circle cx="163.5" cy="126.75" r="3.3" fill="url(#gO)"/>
<circle cx="163.5" cy="171.65" r="3.3" fill="url(#gO)"/>
<circle cx="163.5" cy="216.55" r="3.3" fill="url(#gO)"/>
<circle cx="134.9" cy="55.9" r="3.3" fill="url(#gO)"/>
<circle cx="134.9" cy="100.8" r="3.3" fill="url(#gO)"/>
<circle cx="136.4" cy="247.25" r="3.3" fill="url(#gO)"/>
<circle cx="136.4" cy="292.15" r="3.3" fill="url(#gO)"/>
<circle cx="184.75" cy="149.75" r="3.3" fill="url(#gO)"/>
<circle cx="184.75" cy="194.65" r="3.3" fill="url(#gO)"/>
<circle cx="156.15" cy="78.9" r="3.3" fill="url(#gO)"/>
<circle cx="157.65" cy="270.25" r="3.3" fill="url(#gO)"/>
<circle cx="177.4" cy="57" r="3.3" fill="url(#gO)"/>
<circle cx="177.4" cy="101.9" r="3.3" fill="url(#gO)"/>
<circle cx="178.9" cy="248.35" r="3.3" fill="url(#gO)"/>
<circle cx="178.9" cy="293.25" r="3.3" fill="url(#gO)"/>
<circle cx="92.8" cy="129.25" r="8.6" fill="url(#gLa)"/>
<circle cx="92.8" cy="172.55" r="8.6" fill="url(#gLa)"/>
<circle cx="92.8" cy="216.35" r="8.6" fill="url(#gLa)"/>
<circle cx="198.65" cy="80" r="3.3" fill="url(#gO)"/>
<circle cx="200.15" cy="271.35" r="3.3" fill="url(#gO)"/>
<circle cx="135.3" cy="130.35" r="8.6" fill="url(#gLa)"/>
<circle cx="135.3" cy="173.65" r="8.6" fill="url(#gLa)"/>
<circle cx="135.3" cy="217.45" r="8.6" fill="url(#gLa)"/>
<circle cx="106.7" cy="58.5" r="8.6" fill="url(#gLa)"/>
<circle cx="106.7" cy="102.2" r="8.6" fill="url(#gLa)"/>
<circle cx="108.2" cy="249.85" r="8.6" fill="url(#gLa)"/>
<circle cx="108.2" cy="293.55" r="8.6" fill="url(#gLa)"/>
<circle cx="114.05" cy="150.65" r="3.3" fill="url(#gO)"/>
<circle cx="114.05" cy="195.55" r="3.3" fill="url(#gO)"/>
<circle cx="85.45" cy="79.8" r="3.3" fill="url(#gO)"/>
<circle cx="86.95" cy="271.15" r="3.3" fill="url(#gO)"/>
<circle cx="177.8" cy="131.45" r="8.6" fill="url(#gLa)"/>
<circle cx="177.8" cy="174.75" r="8.6" fill="url(#gLa)"/>
<circle cx="177.8" cy="218.55" r="8.6" fill="url(#gLa)"/>
<circle cx="149.2" cy="59.6" r="8.6" fill="url(#gLa)"/>
<circle cx="149.2" cy="103.3" r="8.6" fill="url(#gLa)"/>
<circle cx="150.7" cy="250.95" r="8.6" fill="url(#gLa)"/>
<circle cx="150.7" cy="294.65" r="8.6" fill="url(#gLa)"/>
<circle cx="156.55" cy="151.75" r="3.3" fill="url(#gO)"/>
<circle cx="156.55" cy="196.65" r="3.3" fill="url(#gO)"/>
<circle cx="127.95" cy="80.9" r="3.3" fill="url(#gO)"/>
<circle cx="129.45" cy="272.25" r="3.3" fill="url(#gO)"/>
<circle cx="170.45" cy="82" r="3.3" fill="url(#gO)"/>
<circle cx="171.95" cy="273.35" r="3.3" fill="url(#gO)"/>
<polygon points="107.1,130.75 85.85,152.65 100.15,155.75" fill="#8e8e8e" stroke="#8e8e8e" stroke-width="0.4" stroke-linejoin="round"/><polygon points="107.1,130.75 100.15,155.75 128.35,153.75" fill="#a5a5a5" stroke="#a5a5a5" stroke-width="0.4" stroke-linejoin="round"/><polygon points="107.1,175.65 85.85,152.65 100.15,155.75" fill="#858585" stroke="#858585" stroke-width="0.4" stroke-linejoin="round"/><polygon points="107.1,175.65 100.15,155.75 128.35,153.75" fill="#979797" stroke="#979797" stroke-width="0.4" stroke-linejoin="round"/><circle cx="107.1" cy="153.2" r="4" fill="#b4b4b4" fill-opacity="0.5"/><circle cx="114.05" cy="150.65" r="3" fill="#d06060" fill-opacity="0.25"/>
<polygon points="107.1,175.65 85.85,197.55 100.15,200.65" fill="#8e8e8e" stroke="#8e8e8e" stroke-width="0.4" stroke-linejoin="round"/><polygon points="107.1,175.65 100.15,200.65 128.35,198.65" fill="#a5a5a5" stroke="#a5a5a5" stroke-width="0.4" stroke-linejoin="round"/><polygon points="107.1,220.55 85.85,197.55 100.15,200.65" fill="#858585" stroke="#858585" stroke-width="0.4" stroke-linejoin="round"/><polygon points="107.1,220.55 100.15,200.65 128.35,198.65" fill="#979797" stroke="#979797" stroke-width="0.4" stroke-linejoin="round"/><circle cx="107.1" cy="198.1" r="4" fill="#b4b4b4" fill-opacity="0.5"/><circle cx="114.05" cy="195.55" r="3" fill="#d06060" fill-opacity="0.25"/>
<circle cx="85.85" cy="152.65" r="3.3" fill="url(#gO)"/>
<circle cx="85.85" cy="197.55" r="3.3" fill="url(#gO)"/>
<polygon points="149.6,131.85 128.35,153.75 142.65,156.85" fill="#8e8e8e" stroke="#8e8e8e" stroke-width="0.4" stroke-linejoin="round"/><polygon points="149.6,131.85 142.65,156.85 170.85,154.85" fill="#a5a5a5" stroke="#a5a5a5" stroke-width="0.4" stroke-linejoin="round"/><polygon points="149.6,176.75 128.35,153.75 142.65,156.85" fill="#858585" stroke="#858585" stroke-width="0.4" stroke-linejoin="round"/><polygon points="149.6,176.75 142.65,156.85 170.85,154.85" fill="#979797" stroke="#979797" stroke-width="0.4" stroke-linejoin="round"/><circle cx="149.6" cy="154.3" r="4" fill="#b4b4b4" fill-opacity="0.5"/><circle cx="156.55" cy="151.75" r="3" fill="#d06060" fill-opacity="0.25"/>
<polygon points="149.6,176.75 128.35,198.65 142.65,201.75" fill="#8e8e8e" stroke="#8e8e8e" stroke-width="0.4" stroke-linejoin="round"/><polygon points="149.6,176.75 142.65,201.75 170.85,199.75" fill="#a5a5a5" stroke="#a5a5a5" stroke-width="0.4" stroke-linejoin="round"/><polygon points="149.6,221.65 128.35,198.65 142.65,201.75" fill="#858585" stroke="#858585" stroke-width="0.4" stroke-linejoin="round"/><polygon points="149.6,221.65 142.65,201.75 170.85,199.75" fill="#979797" stroke="#979797" stroke-width="0.4" stroke-linejoin="round"/><circle cx="149.6" cy="199.2" r="4" fill="#b4b4b4" fill-opacity="0.5"/><circle cx="156.55" cy="196.65" r="3" fill="#d06060" fill-opacity="0.25"/>
<polygon points="121,61 99.75,82.9 114.05,86" fill="#8e8e8e" stroke="#8e8e8e" stroke-width="0.4" stroke-linejoin="round"/><polygon points="121,61 114.05,86 142.25,84" fill="#a5a5a5" stroke="#a5a5a5" stroke-width="0.4" stroke-linejoin="round"/><polygon points="121,105.9 99.75,82.9 114.05,86" fill="#858585" stroke="#858585" stroke-width="0.4" stroke-linejoin="round"/><polygon points="121,105.9 114.05,86 142.25,84" fill="#979797" stroke="#979797" stroke-width="0.4" stroke-linejoin="round"/><circle cx="121" cy="83.45" r="4" fill="#b4b4b4" fill-opacity="0.5"/><circle cx="127.95" cy="80.9" r="3" fill="#d06060" fill-opacity="0.25"/>
<polygon points="122.5,252.35 101.25,274.25 115.55,277.35" fill="#8e8e8e" stroke="#8e8e8e" stroke-width="0.4" stroke-linejoin="round"/><polygon points="122.5,252.35 115.55,277.35 143.75,275.35" fill="#a5a5a5" stroke="#a5a5a5" stroke-width="0.4" stroke-linejoin="round"/><polygon points="122.5,297.25 101.25,274.25 115.55,277.35" fill="#858585" stroke="#858585" stroke-width="0.4" stroke-linejoin="round"/><polygon points="122.5,297.25 115.55,277.35 143.75,275.35" fill="#979797" stroke="#979797" stroke-width="0.4" stroke-linejoin="round"/><circle cx="122.5" cy="274.8" r="4" fill="#b4b4b4" fill-opacity="0.5"/><circle cx="129.45" cy="272.25" r="3" fill="#d06060" fill-opacity="0.25"/>
<circle cx="107.1" cy="130.75" r="3.3" fill="url(#gO)"/>
<circle cx="107.1" cy="175.65" r="3.3" fill="url(#gO)"/>
<circle cx="107.1" cy="220.55" r="3.3" fill="url(#gO)"/>
<circle cx="128.35" cy="153.75" r="3.3" fill="url(#gO)"/>
<circle cx="128.35" cy="198.65" r="3.3" fill="url(#gO)"/>
<circle cx="99.75" cy="82.9" r="3.3" fill="url(#gO)"/>
<circle cx="101.25" cy="274.25" r="3.3" fill="url(#gO)"/>
<circle cx="149.6" cy="131.85" r="3.3" fill="url(#gO)"/>
<circle cx="149.6" cy="176.75" r="3.3" fill="url(#gO)"/>
<circle cx="149.6" cy="221.65" r="3.3" fill="url(#gO)"/>
<circle cx="121" cy="61" r="3.3" fill="url(#gO)"/>
<circle cx="121" cy="105.9" r="3.3" fill="url(#gO)"/>
<circle cx="122.5" cy="252.35" r="3.3" fill="url(#gO)"/>
<circle cx="122.5" cy="297.25" r="3.3" fill="url(#gO)"/>
<circle cx="170.85" cy="154.85" r="3.3" fill="url(#gO)"/>
<circle cx="170.85" cy="199.75" r="3.3" fill="url(#gO)"/>
<circle cx="142.25" cy="84" r="3.3" fill="url(#gO)"/>
<circle cx="143.75" cy="275.35" r="3.3" fill="url(#gO)"/>
<circle cx="121.4" cy="135.45" r="8.6" fill="url(#gLa)"/>
<circle cx="121.4" cy="178.75" r="8.6" fill="url(#gLa)"/>
<circle cx="121.4" cy="222.55" r="8.6" fill="url(#gLa)"/>
<circle cx="100.15" cy="155.75" r="3.3" fill="url(#gO)"/>
<circle cx="100.15" cy="200.65" r="3.3" fill="url(#gO)"/>
<circle cx="142.65" cy="156.85" r="3.3" fill="url(#gO)"/>
<circle cx="142.65" cy="201.75" r="3.3" fill="url(#gO)"/>
<circle cx="114.05" cy="86" r="3.3" fill="url(#gO)"/>
<circle cx="115.55" cy="277.35" r="3.3" fill="url(#gO)"/>
<line x1="46.8" y1="108.1" x2="83" y2="124.1" stroke="#5aaa4a" stroke-width="2.2"/>
<text x="17.4" y="110.8" font-size="19.5" font-weight="bold" fill="#5aaa4a">La</text>
<line x1="44.2" y1="158.6" x2="80.5" y2="153.8" stroke="#e8141c" stroke-width="2.3"/>
<text x="24.1" y="166.8" font-size="19.2" font-weight="bold" fill="#e8141c">O</text>
<line x1="45.5" y1="218.4" x2="103" y2="199.9" stroke="#a2a4a8" stroke-width="2.2"/>
<circle cx="100.15" cy="200.65" r="3.3" fill="url(#gO)"/>
<text x="20.0" y="227.4" font-size="18.2" font-weight="bold" fill="#a2a4a8">Ni</text>
<text x="100.6" y="25.8" font-size="18.3">La<tspan font-size="12.8" dy="6.8">3</tspan><tspan dy="-6.8">Ni</tspan><tspan font-size="12.8" dy="6.8">2</tspan><tspan dy="-6.8">O</tspan><tspan font-size="12.8" dy="6.8">7</tspan></text>
<g stroke="#000" stroke-width="3.6" fill="none" stroke-linecap="butt" stroke-linejoin="round"><polyline points="6.8,262 6.8,291.6 39,291.6"/><line x1="7.5" y1="290.6" x2="28.5" y2="281.5"/></g>
<polygon points="6.8,255.9 2.3,265.2 6.8,263 11.3,265.2" fill="#000"/>
<polygon points="45.2,291.6 35.9,287.1 38.1,291.6 35.9,296.1" fill="#000"/>
<polygon points="34,278.9 23.7,278.7 26.6,282 27.6,286.9" fill="#000"/>
<text x="0.3" y="254.8" font-size="19" font-style="italic">c</text>
<text x="34.8" y="274.3" font-size="19" font-style="italic">b</text>
<text x="46.2" y="280.7" font-size="12" font-style="italic">T</text>
<text x="45.6" y="302.4" font-size="19" font-style="italic">a</text>
<text x="56.8" y="308.8" font-size="12" font-style="italic">T</text>
</svg></body></html>
